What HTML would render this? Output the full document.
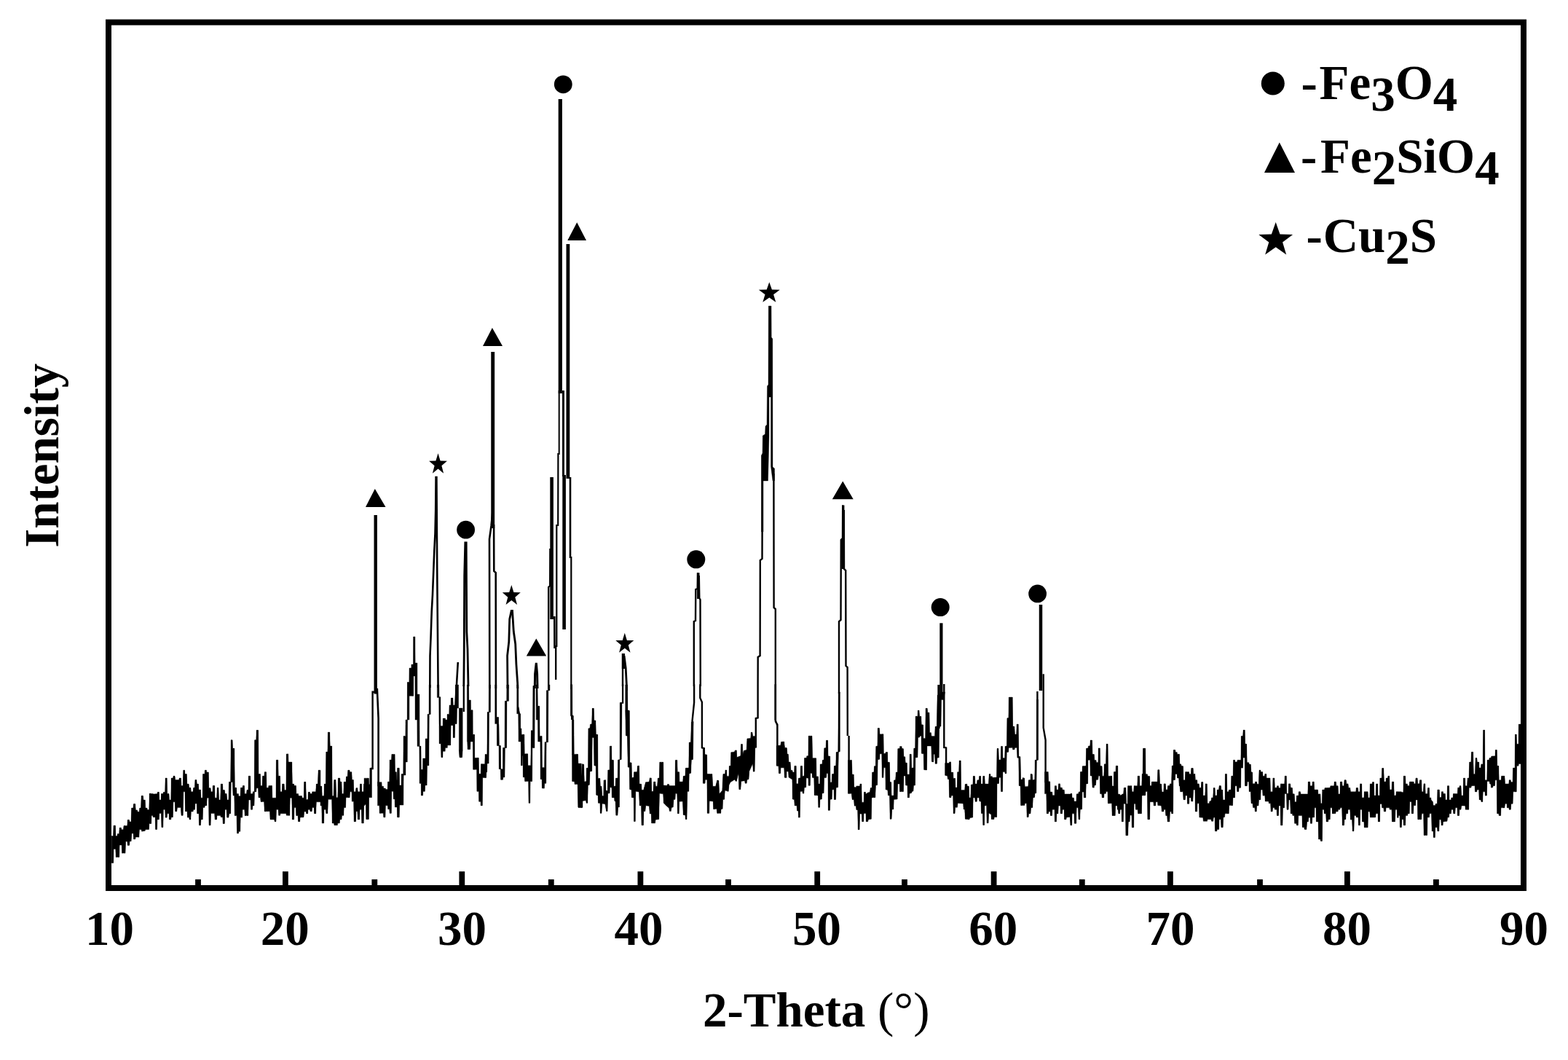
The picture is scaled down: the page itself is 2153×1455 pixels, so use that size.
<!DOCTYPE html>
<html lang="en">
<head>
<meta charset="utf-8">
<title>XRD pattern</title>
<style>
html,body{margin:0;padding:0;background:#fff;}
body{width:2153px;height:1455px;overflow:hidden;}
svg{display:block;}
svg text{font-family:"Liberation Serif","DejaVu Serif",serif;font-weight:bold;fill:#000;}
</style>
</head>
<body>
<svg width="2153" height="1455" viewBox="0 0 2153 1455">
<rect x="0" y="0" width="2153" height="1455" fill="#fff"/>
<rect x="149.0" y="30.6" width="1943.0" height="1188.4" fill="none" stroke="#000" stroke-width="8"/>
<rect x="268.1" y="1207.1" width="7.8" height="8.9" fill="#000"/>
<rect x="388.0" y="1196.2" width="7.8" height="19.8" fill="#000"/>
<rect x="510.4" y="1207.1" width="7.8" height="8.9" fill="#000"/>
<rect x="630.4" y="1196.2" width="7.8" height="19.8" fill="#000"/>
<rect x="752.9" y="1207.1" width="7.8" height="8.9" fill="#000"/>
<rect x="875.5" y="1196.2" width="7.8" height="19.8" fill="#000"/>
<rect x="996.1" y="1207.1" width="7.8" height="8.9" fill="#000"/>
<rect x="1118.3" y="1196.2" width="7.8" height="19.8" fill="#000"/>
<rect x="1238.1" y="1207.1" width="7.8" height="8.9" fill="#000"/>
<rect x="1360.7" y="1196.2" width="7.8" height="19.8" fill="#000"/>
<rect x="1481.9" y="1207.1" width="7.8" height="8.9" fill="#000"/>
<rect x="1603.0" y="1196.2" width="7.8" height="19.8" fill="#000"/>
<rect x="1726.1" y="1207.1" width="7.8" height="8.9" fill="#000"/>
<rect x="1846.0" y="1196.2" width="7.8" height="19.8" fill="#000"/>
<rect x="1968.0" y="1207.1" width="7.8" height="8.9" fill="#000"/>
<text x="150.5" y="1296.5" text-anchor="middle" font-size="67">10</text>
<text x="391.2" y="1296.5" text-anchor="middle" font-size="67">20</text>
<text x="634.4" y="1296.5" text-anchor="middle" font-size="67">30</text>
<text x="877.1" y="1296.5" text-anchor="middle" font-size="67">40</text>
<text x="1121.5" y="1296.5" text-anchor="middle" font-size="67">50</text>
<text x="1363.7" y="1296.5" text-anchor="middle" font-size="67">60</text>
<text x="1606.9" y="1296.5" text-anchor="middle" font-size="67">70</text>
<text x="1849.4" y="1296.5" text-anchor="middle" font-size="67">80</text>
<text x="2092.5" y="1296.5" text-anchor="middle" font-size="67">90</text>
<text x="965" y="1408.7" font-size="67">2-Theta <tspan font-weight="normal">(°)</tspan></text>
<text transform="translate(80.4,751.8) rotate(-90)" font-size="67">Intensity</text>
<circle cx="1747.8" cy="114.5" r="16" fill="#000"/>
<text y="135.8" font-size="67"><tspan x="1786.5">-</tspan><tspan x="1811.5">Fe</tspan><tspan dy="16.3">3</tspan><tspan dy="-16.3">O</tspan><tspan dy="16.3">4</tspan></text>
<polygon points="1756.8,195.5 1778,237 1736,237" fill="#000"/>
<text y="237" font-size="67"><tspan x="1786">-</tspan><tspan x="1813">Fe</tspan><tspan dy="16.3">2</tspan><tspan dy="-16.3">SiO</tspan><tspan dy="16.3">4</tspan></text>
<polygon points="1751.7,304.9 1757.5,321.5 1775.1,321.9 1761.1,332.5 1766.2,349.4 1751.7,339.3 1737.2,349.4 1742.3,332.5 1728.3,321.9 1745.9,321.5" fill="#000"/>
<text y="346" font-size="67"><tspan x="1793.5">-</tspan><tspan x="1816.7">Cu</tspan><tspan dy="16.3">2</tspan><tspan dy="-16.3">S</tspan></text>
<g id="trace">
<path d="M153.2,1147.5 155.6,1147.5 156.0,1133.2 158.4,1133.2 158.8,1147.5 160.9,1147.5 161.3,1144.4 163.7,1144.4 164.1,1136.3 166.5,1136.3 166.9,1138.8 169.5,1138.8 170.0,1133.5 174.8,1133.5 175.3,1125.4 177.6,1125.4 178.0,1127.9 180.1,1127.9 180.7,1109.1 182.9,1109.1 183.5,1103.6 185.7,1103.6 186.3,1111.9 188.5,1111.9 189.0,1114.3 191.3,1114.3 191.8,1109.1 193.6,1109.1 194.1,1092.4 196.4,1092.4 196.9,1098.0 199.2,1098.0 199.6,1109.1 202.0,1109.1 202.4,1111.5 204.8,1111.5 205.2,1089.2 210.4,1089.6 210.8,1090.0 215.9,1089.6 216.4,1087.3 218.3,1087.3 218.7,1098.0 221.1,1098.0 221.5,1089.6 223.9,1089.6 224.3,1087.3 226.7,1087.3 227.1,1068.0 229.2,1068.0 229.6,1089.6 232.0,1089.6 232.4,1098.0 234.8,1098.0 235.2,1068.0 237.5,1068.0 238.0,1065.2 240.0,1065.2 240.6,1070.5 245.6,1070.5 246.2,1068.0 248.4,1068.0 249.0,1078.5 251.2,1078.5 251.8,1057.2 253.6,1057.2 254.0,1062.5 256.3,1062.5 256.8,1076.1 259.1,1076.1 259.6,1081.3 261.9,1081.3 262.3,1086.8 265.1,1086.8 265.7,1081.3 267.5,1081.3 267.9,1070.5 269.9,1070.5 270.3,1076.1 272.4,1076.1 272.8,1084.1 275.4,1084.1 275.9,1095.2 278.2,1095.2 278.6,1062.5 281.0,1062.5 281.4,1057.2 283.5,1057.2 283.9,1059.9 286.3,1059.9 286.7,1081.7 289.1,1081.7 289.5,1086.8 291.9,1086.8 292.3,1078.5 294.7,1078.5 295.1,1095.2 297.7,1095.2 298.2,1081.3 300.0,1081.3 300.5,1098.0 302.7,1098.0 303.3,1076.1 305.5,1076.1 306.1,1084.5 308.3,1084.5 308.9,1089.6 311.1,1089.6 311.7,1098.0 313.9,1098.0 314.5,1073.3 316.7,1073.3 317.2,1015.8 319.1,1015.8 319.5,1027.3 321.8,1027.3 322.3,1081.3 324.6,1081.3 325.0,1089.6 327.4,1089.6 327.8,1092.8 330.2,1092.8 330.6,1081.3 333.0,1081.3 333.4,1078.5 335.4,1078.5 335.8,1089.6 338.6,1089.6 339.0,1084.5 340.9,1084.5 341.3,1065.2 343.7,1065.2 344.1,1089.6 346.9,1089.6 347.3,1086.8 349.3,1086.8 349.7,1015.8 351.8,1015.8 352.2,1002.3 354.6,1002.3 355.0,1062.5 357.4,1062.5 357.8,1078.5 360.2,1078.5 360.6,1065.2 362.9,1065.2 363.4,1059.7 365.5,1059.7 366.0,1081.3 368.5,1081.3 368.9,1078.5 373.4,1078.5 373.8,1095.2 379.0,1095.2 379.4,1043.2 381.8,1043.2 382.2,1065.2 384.5,1065.2 385.0,1086.8 387.3,1086.8 387.7,1076.1 390.1,1076.1 390.5,1084.5 392.9,1084.5 393.3,1034.9 395.7,1034.9 396.1,1046.0 400.8,1046.0 401.3,1076.1 403.6,1076.1 404.1,1078.5 406.4,1078.5 406.8,1089.6 409.6,1089.6 410.0,1092.4 414.5,1092.4 414.9,1095.2 417.3,1095.2 417.7,1073.3 419.8,1073.3 420.4,1097.6 422.9,1097.6 423.3,1087.3 425.6,1087.3 426.1,1089.6 428.2,1089.6 428.7,1086.8 433.7,1086.8 434.3,1076.1 436.5,1076.1 437.1,1057.2 440.0,1057.2 440.0,1100.8 434.3,1100.8 433.7,1116.8 431.6,1116.8 431.2,1108.4 428.7,1108.4 428.2,1113.7 425.9,1113.7 425.4,1111.2 423.1,1111.2 422.6,1116.8 420.5,1116.8 420.1,1114.0 417.6,1114.0 417.0,1121.7 412.1,1122.1 411.7,1127.7 409.6,1127.7 409.2,1119.6 406.8,1119.6 406.4,1108.4 404.1,1108.4 403.6,1124.9 401.3,1124.9 400.8,1095.2 398.2,1095.2 397.8,1119.3 393.3,1119.3 392.9,1116.8 385.0,1116.8 384.5,1119.3 382.7,1119.3 382.2,1111.2 379.4,1111.2 379.0,1127.7 377.2,1127.7 376.6,1124.9 371.0,1124.9 370.6,1113.7 363.2,1113.7 362.7,1100.4 358.1,1100.4 357.6,1094.8 355.0,1094.8 354.6,1081.7 352.2,1081.7 351.8,1086.8 349.4,1086.8 349.0,1105.9 346.9,1105.9 346.5,1111.2 344.6,1111.2 344.1,1098.0 341.3,1098.0 340.9,1119.6 336.2,1119.6 335.8,1111.2 333.0,1111.2 332.6,1122.1 330.2,1122.1 329.8,1141.2 327.8,1141.2 327.4,1144.0 325.6,1144.0 325.0,1119.6 322.3,1119.6 321.8,1092.0 320.0,1092.0 319.5,1073.6 317.2,1073.6 316.7,1116.8 314.5,1116.8 313.9,1122.1 311.7,1122.1 311.1,1111.2 308.9,1111.2 308.3,1130.5 306.2,1130.5 305.8,1121.7 303.3,1121.7 302.7,1119.6 297.9,1119.6 297.5,1124.9 295.1,1124.9 294.7,1116.5 289.5,1116.5 289.1,1132.8 287.0,1132.8 286.6,1095.2 284.2,1095.2 283.8,1105.7 281.4,1105.9 281.0,1108.4 278.6,1108.4 278.2,1124.9 275.9,1124.9 275.4,1132.8 273.5,1132.8 273.1,1116.8 270.7,1116.8 270.3,1103.1 267.9,1103.1 267.5,1111.2 265.7,1111.2 265.1,1114.0 262.3,1114.0 261.9,1124.9 260.1,1124.9 259.6,1122.1 257.5,1122.1 257.0,1113.7 254.5,1113.7 254.0,1086.8 251.8,1086.8 251.2,1119.3 249.0,1119.3 248.4,1108.4 243.4,1108.4 242.8,1113.7 240.7,1113.7 240.3,1100.8 237.8,1100.8 237.3,1121.7 235.2,1121.7 234.8,1124.9 232.4,1124.9 232.0,1116.8 229.6,1116.8 229.2,1122.1 227.1,1122.1 226.7,1111.2 224.3,1111.2 223.9,1135.6 221.9,1135.6 221.5,1116.5 218.7,1116.5 218.3,1124.9 215.9,1124.9 215.5,1138.4 213.6,1138.4 213.2,1121.7 210.1,1121.7 209.7,1119.6 208.0,1119.6 207.6,1130.5 204.8,1130.5 204.4,1138.4 199.6,1138.8 199.2,1140.5 194.6,1141.2 194.1,1138.8 191.3,1138.8 190.9,1149.1 186.3,1149.1 185.7,1151.9 183.6,1151.9 183.2,1144.0 180.7,1144.0 180.1,1154.7 178.0,1154.7 177.6,1160.3 175.3,1160.3 174.8,1155.1 172.5,1155.1 172.0,1171.1 167.6,1171.1 167.2,1160.0 164.1,1160.0 163.7,1176.4 159.2,1176.4 158.8,1165.6 156.0,1165.6 155.6,1184.4 153.2,1184.4Z M440.0,1079.2 441.8,1079.2 442.2,1092.4 444.9,1092.4 445.3,1076.1 447.4,1076.1 447.8,1032.1 449.9,1032.1 450.4,1005.0 452.7,1005.0 453.2,1024.1 455.7,1024.1 456.2,1092.4 458.2,1092.4 458.8,1070.5 461.0,1070.5 461.6,1094.8 463.8,1094.8 464.4,1068.0 466.6,1068.0 467.2,1073.3 469.0,1073.3 469.4,1089.6 471.8,1089.6 472.2,1073.3 475.0,1073.3 475.5,1065.9 477.3,1065.9 477.8,1057.2 480.1,1057.2 480.5,1059.7 482.9,1059.7 483.3,1070.5 485.3,1070.5 485.7,1086.8 488.5,1086.8 488.9,1081.7 490.8,1081.7 491.3,1086.8 494.1,1086.8 494.5,1076.1 496.4,1076.1 496.8,1086.8 499.2,1086.8 499.6,1076.1 500.6,1076.1 500.6,1105.9 499.6,1105.9 499.2,1130.0 496.8,1130.0 496.4,1111.2 494.1,1111.2 493.6,1124.9 491.3,1124.9 490.8,1113.7 488.9,1113.7 488.5,1127.7 486.1,1127.7 485.7,1100.1 483.3,1100.1 482.9,1086.8 480.5,1086.8 480.1,1094.8 475.0,1094.8 474.5,1108.4 472.2,1108.4 471.8,1119.3 469.4,1119.3 469.0,1124.9 466.6,1124.9 466.2,1130.0 463.8,1130.0 463.4,1132.8 458.9,1132.8 458.5,1130.0 456.2,1130.0 455.7,1097.3 450.4,1097.3 449.9,1116.5 447.8,1116.5 447.4,1111.2 445.0,1111.2 444.6,1130.0 442.2,1130.0 441.8,1105.9 440.0,1105.9Z M500.0,1068.2 506.3,1068.2 506.5,1076.6 507.8,1076.6 507.9,1054.3 510.5,1054.3 510.5,1094.7 506.5,1094.7 506.3,1124.6 502.8,1124.6 502.5,1104.4 500.0,1104.4Z M518.5,1073.1 520.9,1073.1 521.2,1073.8 524.0,1073.8 524.2,1079.3 526.5,1079.3 526.8,1082.1 529.3,1082.1 529.5,1083.5 532.3,1083.5 532.6,1073.1 534.8,1073.1 535.1,1043.1 537.6,1043.1 537.9,1035.4 542.1,1035.4 542.4,1059.8 544.3,1059.8 544.6,1070.3 545.4,1070.3 545.7,1054.3 548.2,1054.3 548.5,1077.9 551.0,1077.9 551.3,1062.6 553.8,1062.6 554.1,1010.4 556.9,1010.4 557.0,988.1 559.2,988.1 559.4,936.5 561.9,936.5 562.0,917.0 564.8,917.0 564.9,912.1 567.6,912.1 567.7,874.0 569.9,874.0 570.1,910.0 572.9,910.0 573.0,953.0 575.9,953.0 576.1,1024.3 578.0,1024.3 578.2,1056.3 580.7,1056.3 580.8,1041.0 584.2,1041.0 584.3,1013.9 586.9,1013.9 587.1,980.4 589.0,980.4 589.2,940.0 591.3,940.0 591.3,980.4 589.2,980.4 588.9,1050.8 586.4,1050.8 586.1,1077.9 583.6,1077.9 583.3,1086.3 580.8,1086.3 580.5,1091.9 578.4,1091.9 578.3,1075.2 576.1,1075.2 575.9,1024.3 573.0,1024.3 572.9,988.1 570.1,988.1 569.9,928.0 567.7,928.0 567.6,955.3 562.0,955.3 561.9,988.1 559.4,988.1 559.2,1045.9 557.0,1045.9 556.9,1064.0 554.1,1064.0 553.8,1105.1 548.5,1105.1 548.2,1121.8 545.6,1121.8 545.3,1107.9 542.4,1107.9 542.1,1096.8 540.4,1096.8 540.1,1086.3 537.6,1086.3 537.3,1116.3 535.1,1116.3 534.8,1110.7 532.6,1110.7 532.3,1105.8 529.3,1105.8 529.0,1121.8 526.8,1121.8 526.5,1116.3 521.2,1116.3 520.9,1105.8 518.5,1105.8Z M600.3,940.0 602.8,940.0 603.0,956.7 604.8,956.7 604.9,996.4 608.1,996.4 608.3,986.0 611.5,986.0 611.6,988.1 614.0,988.1 614.1,980.4 616.8,980.4 617.0,967.9 619.1,967.9 619.4,958.1 621.9,958.1 622.2,967.9 625.1,967.9 625.4,940.0 629.6,940.0 629.6,972.0 627.4,972.0 627.1,993.6 624.6,993.6 624.3,1012.5 622.3,1012.5 622.1,995.7 619.1,995.7 618.7,1022.9 614.5,1022.9 614.3,1026.4 611.5,1026.4 611.2,1031.3 608.1,1031.3 607.8,1039.6 605.9,1039.6 605.5,1020.8 603.1,1020.8 602.8,957.4 600.3,957.4Z M630.3,972.0 635.2,972.0 635.2,1029.2 634.5,1039.6 631.0,1039.6 630.3,1029.2Z M641.4,940.0 643.5,940.0 643.7,960.9 646.3,960.9 646.4,974.8 649.1,974.8 649.2,1008.3 651.6,1008.3 651.7,1040.3 657.2,1040.3 657.5,1062.3 660.2,1062.3 660.5,1048.7 665.8,1048.7 666.1,1035.4 668.9,1035.4 669.2,977.6 671.2,977.6 671.4,940.0 673.5,940.0 673.5,977.6 671.4,977.6 671.1,1048.0 668.9,1048.0 668.6,1059.8 667.8,1059.8 667.5,1067.5 662.6,1067.5 662.3,1105.8 660.2,1105.8 660.0,1100.2 657.7,1100.2 657.5,1086.3 654.9,1086.3 654.7,1056.3 649.7,1056.3 649.4,1018.0 646.0,1018.0 645.6,1028.5 642.1,1028.5 641.8,1018.0 641.4,1018.0Z M679.7,940.0 681.8,940.0 682.0,984.6 684.5,984.6 684.6,994.3 685.0,994.3 685.3,1023.6 687.4,1023.6 687.6,1055.7 690.5,1055.7 690.6,1026.4 693.0,1026.4 693.1,1012.5 693.4,962.3 695.8,962.3 695.9,940.0 698.6,940.0 698.6,962.3 695.9,962.3 695.6,1026.4 693.3,1026.4 693.0,1066.8 690.9,1066.8 690.6,1070.3 687.7,1070.3 687.4,1055.7 685.3,1055.7 685.0,1023.6 682.5,1023.6 682.4,993.6 679.7,993.6Z M709.7,940.0 711.8,940.0 711.9,969.3 713.7,979.7 714.6,979.7 714.7,999.9 716.0,999.9 716.1,1008.3 719.9,1008.3 720.2,1034.8 724.6,1034.8 724.9,1050.8 728.8,1050.8 729.1,1026.4 729.4,1002.7 731.6,1002.7 731.9,941.4 734.1,941.4 734.4,940.0 735.5,940.0 735.5,941.4 734.2,941.4 734.0,1026.4 730.9,1026.4 730.6,1072.4 728.1,1072.4 727.8,1102.3 726.0,1102.3 725.7,1072.4 720.7,1072.4 720.4,1066.8 718.3,1066.8 718.1,1037.5 717.4,1037.5 717.1,1050.8 715.6,1050.8 715.3,1018.0 712.1,1018.0 711.8,979.7 709.7,979.7Z M736.2,940.0 738.0,940.0 738.3,969.3 740.8,969.3 741.1,1010.4 744.1,1010.4 744.4,1053.6 747.7,1053.6 748.0,1018.7 750.3,1018.7 750.5,947.7 752.5,947.7 752.8,940.0 755.0,940.0 755.0,947.7 752.8,947.7 752.5,1018.7 750.1,1018.7 749.8,1075.2 747.6,1075.2 747.3,1082.1 744.4,1082.1 744.1,1069.6 742.2,1069.6 741.9,1018.0 738.8,1018.0 738.6,988.1 736.2,988.1Z M783.6,940.0 785.6,940.0 785.9,988.1 787.9,988.1 788.2,1035.4 793.5,1035.4 793.7,1048.0 798.2,1048.0 798.5,1065.4 800.0,1065.4 800.0,1108.6 794.0,1108.6 793.7,1076.6 789.0,1076.6 788.7,1072.4 786.2,1072.4 785.9,1036.1 785.6,988.1 783.6,981.8Z M785.6,1035.4 793.2,1035.4 793.9,1048.7 796.0,1049.4 796.7,1065.4 798.8,1064.7 799.5,1048.7 801.6,1049.4 802.3,1073.1 805.1,1072.4 805.4,1054.3 807.6,1054.3 807.9,999.9 810.0,999.2 810.4,994.3 812.7,993.6 813.2,972.3 815.3,972.3 815.7,988.8 817.9,989.0 818.3,1008.0 820.7,1008.3 821.1,1068.2 823.9,1068.5 824.3,1079.3 826.0,1079.3 826.7,1092.6 828.8,1092.6 829.0,1071.0 831.6,1070.7 832.0,1084.9 834.3,1085.6 834.8,1057.0 837.1,1056.8 837.4,1024.3 839.6,1024.0 839.9,1043.1 842.4,1043.4 842.7,1079.3 845.2,1079.1 845.5,1068.2 848.3,1067.9 848.6,1043.1 851.1,1042.4 851.3,964.4 853.9,964.0 853.9,965.1 853.2,1042.4 850.8,1043.1 850.4,1107.9 848.6,1107.9 848.0,1119.1 845.8,1119.1 845.2,1100.0 843.8,1099.5 843.4,1094.9 840.3,1094.7 839.9,1081.0 837.4,1080.7 837.1,1088.8 834.6,1089.1 834.1,1113.5 832.7,1113.5 831.6,1108.6 830.9,1103.7 826.7,1103.0 826.0,1116.3 824.3,1116.3 823.9,1102.3 821.5,1102.3 821.1,1091.9 818.7,1091.2 818.3,1051.5 815.9,1050.8 815.5,1012.5 813.2,1012.5 812.7,1058.4 810.0,1059.1 809.3,1077.3 807.3,1077.9 806.8,1102.3 805.1,1102.3 804.4,1098.8 799.5,1099.5 798.8,1108.6 793.9,1107.9 793.2,1075.9 787.9,1072.4 785.6,1072.4Z M858.7,940.0 861.5,940.0 861.9,974.8 864.3,975.5 864.7,1046.6 867.1,1047.0 867.5,1067.5 870.3,1067.1 870.6,1059.8 874.8,1059.6 875.4,1051.5 877.5,1051.2 878.0,1075.9 880.6,1076.3 881.0,1084.2 883.8,1084.2 886.6,1073.8 891.5,1073.1 892.2,1067.9 894.3,1067.9 894.7,1086.3 897.0,1086.3 897.7,1073.1 899.8,1073.1 900.3,1079.3 902.6,1079.3 903.3,1068.2 905.4,1067.9 905.8,1046.2 910.7,1046.2 911.0,1077.9 915.9,1078.2 916.6,1076.3 918.6,1076.6 919.1,1078.6 927.0,1078.6 927.4,1043.4 929.8,1043.4 930.2,1059.6 932.6,1059.8 933.0,1073.1 937.7,1073.1 938.2,1065.4 940.9,1065.1 941.4,1054.3 945.8,1054.0 946.2,1019.1 948.6,1018.7 949.3,990.9 952.1,990.2 952.1,990.9 951.4,1042.4 949.3,1043.1 948.6,1061.2 946.2,1061.9 945.8,1086.3 943.7,1086.3 943.0,1124.6 941.4,1124.6 940.9,1119.1 938.2,1118.4 937.5,1100.0 932.6,1100.2 932.2,1116.7 930.5,1116.7 929.8,1089.4 927.4,1089.1 927.0,1097.2 924.9,1097.5 924.2,1107.9 922.1,1108.6 921.4,1113.5 919.3,1113.5 918.6,1109.3 914.5,1105.8 911.3,1102.3 910.7,1089.8 905.4,1089.1 904.7,1124.6 900.1,1125.3 899.6,1129.9 894.7,1129.9 894.3,1117.0 892.2,1117.0 891.5,1106.5 886.6,1105.8 885.9,1113.5 883.8,1113.5 883.4,1132.7 881.0,1132.7 880.6,1105.8 878.2,1105.8 877.5,1087.0 872.7,1086.3 872.2,1127.4 870.6,1127.4 870.3,1094.9 867.5,1094.7 867.1,1084.2 864.7,1083.5 864.3,1053.6 862.2,1052.9 861.5,1010.4 859.4,1009.7 858.7,974.8Z M965.3,1026.4 967.4,1026.7 967.8,1035.4 970.6,1035.9 970.9,1062.3 977.9,1062.6 978.6,1079.3 982.7,1079.3 984.8,1071.0 986.9,1071.7 987.6,1089.8 991.8,1084.9 992.9,1062.6 995.7,1062.3 996.0,1057.0 997.6,1057.0 998.1,1065.4 1000.9,1065.4 1001.3,1051.5 1003.4,1051.2 1003.8,1032.7 1008.5,1032.0 1009.2,1029.9 1011.3,1029.9 1011.7,1039.6 1016.9,1037.5 1017.6,1021.5 1019.4,1021.5 1019.9,1037.5 1021.1,1030.6 1025.2,1029.2 1025.9,1013.9 1030.8,1013.2 1031.2,1005.2 1032.9,1005.2 1033.6,1010.4 1038.5,1010.4 1038.5,1025.7 1036.7,1026.4 1036.1,1059.1 1034.3,1059.1 1033.6,1048.0 1028.7,1059.1 1028.0,1069.6 1025.9,1070.3 1025.2,1075.2 1023.1,1075.2 1022.5,1071.7 1017.6,1072.4 1016.9,1083.5 1014.8,1083.5 1014.1,1060.5 1011.3,1072.4 1008.5,1070.3 1002.9,1073.8 1000.9,1077.9 1000.2,1086.3 995.3,1084.9 994.6,1097.2 992.5,1097.5 992.1,1110.3 990.1,1110.7 989.7,1116.3 984.8,1116.3 984.1,1110.3 979.7,1110.7 979.3,1100.0 974.1,1099.5 973.7,1116.3 971.2,1116.3 970.9,1070.3 968.4,1070.3 968.1,1075.2 965.3,1075.2Z M1045.5,730.0 1045.5,625.0 1047.0,622.0 1047.3,598.0 1050.5,596.0 1051.0,585.0 1053.0,583.0 1053.5,530.0 1055.0,528.0 1055.3,420.0 1059.0,420.0 1059.2,463.0 1060.8,465.0 1061.0,641.0 1063.5,643.0 1063.5,660.0 1061.0,660.0 1058.5,640.0 1058.5,545.0 1056.0,545.0 1056.0,598.0 1054.5,660.0 1048.0,660.0 1048.0,730.0Z M1066.3,1023.6 1072.6,1022.9 1075.4,1018.7 1077.5,1026.4 1080.0,1027.1 1080.0,1067.5 1077.5,1066.8 1076.8,1053.6 1071.9,1053.6 1071.5,1061.2 1069.8,1061.2 1069.1,1051.5 1066.3,1050.8Z M1066.3,1023.9 1071.8,1023.2 1072.5,1018.3 1076.7,1018.0 1077.4,1026.4 1080.2,1026.6 1080.9,1035.0 1082.3,1035.3 1083.0,1045.9 1085.1,1046.1 1085.8,1057.3 1087.9,1057.3 1088.6,1060.1 1090.7,1060.1 1090.9,1051.4 1093.2,1051.4 1093.4,1075.4 1095.9,1076.1 1096.5,1068.2 1099.0,1067.7 1099.4,1051.4 1101.5,1051.4 1101.8,1065.4 1104.3,1065.0 1104.6,1040.6 1107.4,1040.3 1107.7,1037.8 1109.9,1037.5 1110.2,1010.2 1115.0,1010.2 1115.5,1040.6 1120.6,1040.8 1121.0,1065.7 1123.4,1065.9 1123.8,1076.1 1125.8,1076.1 1126.2,1048.9 1129.0,1048.7 1129.4,1043.4 1131.3,1043.1 1131.8,1026.9 1134.1,1026.6 1134.5,1016.2 1136.6,1016.2 1137.1,1037.8 1139.7,1038.1 1140.1,1074.0 1142.2,1073.7 1142.6,1062.6 1145.0,1062.2 1145.4,1051.4 1147.8,1051.0 1148.2,1032.5 1150.8,1032.2 1151.3,950.0 1153.4,950.0 1153.4,1031.5 1151.3,1032.2 1150.6,1080.7 1148.1,1081.0 1147.5,1097.4 1145.4,1097.4 1145.0,1083.8 1142.6,1084.0 1142.2,1097.0 1139.8,1097.4 1139.4,1112.3 1137.3,1112.3 1136.9,1061.8 1135.0,1061.5 1134.5,1067.3 1131.5,1067.7 1131.1,1088.6 1128.7,1089.1 1128.3,1097.0 1125.9,1097.4 1125.5,1108.2 1123.8,1108.2 1123.4,1092.1 1118.2,1091.4 1117.8,1067.7 1115.5,1067.3 1115.0,1061.5 1112.7,1061.2 1112.3,1078.2 1110.2,1078.2 1109.9,1068.2 1107.1,1067.7 1106.7,1080.7 1104.3,1081.0 1103.9,1089.1 1102.2,1089.1 1101.8,1086.3 1098.7,1086.6 1098.3,1122.1 1096.5,1122.1 1096.2,1113.3 1094.6,1113.0 1094.1,1106.1 1091.1,1105.8 1090.7,1097.7 1088.3,1097.0 1087.9,1070.1 1083.0,1067.0 1082.6,1059.0 1079.9,1058.7 1079.5,1067.3 1077.4,1067.3 1077.0,1053.8 1071.8,1053.8 1071.4,1061.5 1069.5,1061.5 1069.1,1051.0 1066.3,1050.6Z M1164.5,1043.4 1169.4,1043.4 1170.1,1062.9 1172.2,1063.1 1172.6,1080.3 1175.4,1080.7 1175.9,1078.9 1180.5,1078.9 1180.9,1076.1 1182.9,1076.1 1183.3,1101.2 1186.1,1101.2 1186.5,1087.3 1188.5,1087.3 1188.9,1090.0 1191.7,1087.9 1194.5,1087.3 1195.2,1081.7 1197.3,1081.3 1197.7,1060.1 1200.0,1059.8 1200.5,1051.7 1202.4,1051.4 1202.8,1024.5 1204.9,1024.1 1205.3,999.5 1207.4,999.5 1208.0,1007.8 1213.0,1007.8 1213.3,1034.3 1215.8,1034.3 1216.1,1032.5 1218.6,1032.5 1218.8,1046.1 1221.4,1046.4 1221.9,1073.3 1223.7,1073.7 1224.1,1092.1 1227.2,1092.1 1227.6,1070.9 1229.7,1070.5 1230.3,1060.1 1232.5,1059.8 1232.8,1027.8 1235.3,1027.3 1235.6,1024.5 1238.1,1024.5 1238.4,1027.3 1240.4,1027.8 1240.9,1038.5 1242.8,1038.9 1243.2,1046.8 1245.3,1047.3 1245.7,1062.9 1248.8,1062.9 1249.2,1035.3 1251.2,1035.3 1251.6,1054.2 1254.4,1053.8 1254.8,1027.3 1256.7,1026.9 1257.2,983.2 1260.0,983.2 1260.4,975.1 1262.0,975.1 1262.5,983.2 1264.8,983.4 1265.2,994.6 1267.6,994.9 1268.0,1013.4 1270.7,1013.4 1271.1,972.3 1273.2,972.3 1273.6,977.9 1276.0,978.1 1276.4,1005.5 1278.5,1005.7 1279.0,1010.6 1283.6,1010.6 1284.1,997.4 1286.4,997.1 1287.1,954.2 1290.6,953.5 1291.3,950.0 1297.6,950.0 1295.5,960.5 1292.4,960.5 1292.0,997.1 1289.6,997.4 1289.2,1039.9 1286.8,1040.3 1286.4,1048.2 1284.1,1048.2 1283.6,1035.3 1282.0,1035.3 1281.6,1045.9 1279.5,1045.4 1278.8,1023.9 1272.9,1023.9 1272.5,1057.0 1268.7,1056.6 1268.3,1034.7 1265.5,1034.3 1265.1,1010.2 1263.2,1010.2 1262.7,1012.0 1260.4,1012.4 1260.0,1039.5 1256.9,1039.9 1256.5,1077.9 1254.4,1078.2 1254.0,1085.9 1252.3,1086.6 1251.6,1088.6 1248.8,1089.3 1248.4,1094.9 1246.4,1094.9 1246.0,1078.2 1243.7,1077.9 1243.2,1065.0 1240.9,1065.0 1240.4,1086.6 1235.6,1086.6 1235.3,1076.1 1232.5,1076.1 1232.1,1097.0 1227.2,1097.4 1226.9,1110.9 1224.7,1110.9 1224.1,1124.2 1222.1,1124.2 1221.6,1092.1 1219.5,1091.8 1218.8,1084.5 1216.1,1083.8 1215.8,1053.8 1213.3,1053.8 1213.0,1067.3 1211.2,1067.3 1210.8,1034.7 1208.1,1034.7 1207.7,1042.2 1205.2,1042.7 1204.6,1077.5 1202.4,1077.9 1201.8,1094.6 1196.8,1094.9 1196.3,1124.2 1192.4,1124.9 1191.7,1127.7 1189.3,1127.7 1188.9,1116.5 1186.1,1116.5 1185.7,1127.7 1183.7,1127.7 1183.3,1117.2 1180.5,1116.9 1180.1,1138.8 1178.2,1138.8 1177.7,1111.6 1175.9,1111.6 1175.4,1106.3 1173.1,1106.1 1172.6,1097.7 1170.1,1097.4 1169.4,1089.3 1164.5,1089.3Z M1297.6,1047.5 1303.1,1047.5 1303.6,1045.9 1305.5,1045.9 1305.9,1060.1 1308.7,1060.1 1309.1,1068.4 1311.5,1068.4 1311.9,1081.0 1314.3,1081.0 1314.7,1059.8 1316.7,1059.8 1317.1,1044.1 1319.2,1044.1 1319.6,1084.5 1324.7,1084.5 1325.2,1076.5 1327.8,1076.1 1328.2,1078.9 1330.3,1079.3 1330.7,1094.9 1332.8,1094.9 1333.4,1077.1 1335.9,1076.8 1336.3,1065.4 1338.4,1065.4 1339.0,1076.1 1341.5,1076.1 1341.9,1070.9 1344.3,1070.5 1344.7,1065.4 1346.6,1065.4 1347.0,1076.1 1349.5,1076.1 1349.8,1065.4 1351.9,1065.4 1352.3,1076.1 1357.5,1076.1 1358.2,1062.6 1360.0,1062.6 1360.0,1116.5 1357.5,1116.5 1357.1,1129.7 1355.1,1129.7 1354.7,1105.8 1351.9,1106.1 1351.5,1132.5 1349.8,1132.5 1349.5,1116.5 1347.5,1116.5 1347.0,1100.2 1344.7,1099.8 1344.3,1094.9 1341.7,1094.9 1341.2,1100.2 1339.1,1100.2 1338.7,1094.9 1336.2,1094.9 1335.6,1122.1 1331.7,1122.8 1331.0,1124.9 1325.4,1124.2 1324.7,1110.9 1323.1,1110.9 1322.7,1103.0 1315.0,1102.6 1314.3,1108.2 1311.5,1108.2 1311.1,1116.5 1309.1,1116.5 1308.7,1092.1 1306.4,1092.1 1305.9,1094.9 1303.6,1094.6 1303.1,1069.8 1301.3,1069.6 1300.8,1065.0 1297.6,1064.3Z M1359.5,1065.9 1362.3,1065.6 1362.7,1067.3 1368.6,1067.0 1369.0,1027.6 1370.9,1027.6 1371.4,1042.9 1374.1,1042.9 1374.6,1024.4 1376.5,1024.4 1376.9,1040.5 1379.7,1040.5 1380.1,1024.4 1382.5,1024.1 1382.9,985.8 1384.9,985.4 1385.3,957.0 1390.2,957.0 1390.6,996.9 1392.9,997.3 1393.4,1008.1 1395.7,1008.1 1396.2,994.1 1398.2,994.1 1398.8,1038.3 1401.0,1038.7 1401.6,1070.1 1403.8,1070.1 1404.1,1067.6 1406.6,1068.0 1407.2,1079.8 1411.8,1079.6 1412.5,1070.8 1415.0,1070.4 1415.2,1062.4 1417.3,1062.8 1417.8,1070.8 1420.8,1070.1 1421.2,1043.3 1423.3,1042.9 1423.6,960.0 1425.3,960.0 1425.3,1042.9 1423.3,1043.6 1422.9,1088.5 1421.1,1088.9 1420.5,1094.5 1418.3,1094.9 1417.8,1108.4 1415.5,1108.8 1415.0,1116.8 1412.7,1116.8 1412.2,1121.6 1410.1,1121.6 1409.7,1102.8 1407.3,1102.8 1406.9,1105.6 1401.7,1105.6 1401.3,1079.1 1399.2,1078.4 1398.8,1040.5 1396.9,1040.1 1396.4,1026.2 1393.4,1026.6 1392.9,1029.0 1390.6,1029.0 1390.2,1026.2 1385.0,1026.6 1384.6,1032.2 1382.2,1032.5 1381.8,1061.7 1380.1,1061.7 1379.7,1059.6 1376.9,1059.6 1376.5,1086.5 1374.6,1086.5 1374.1,1067.3 1371.8,1067.3 1371.4,1075.4 1369.0,1075.7 1368.6,1121.6 1365.4,1121.6 1364.8,1124.7 1361.3,1124.4 1360.9,1117.5 1359.5,1117.5Z M1434.5,1059.6 1439.2,1059.6 1439.6,1072.6 1441.7,1072.9 1442.1,1087.1 1444.8,1087.1 1445.2,1091.7 1448.0,1091.7 1448.4,1078.7 1450.4,1078.7 1450.8,1084.0 1453.1,1084.0 1453.6,1075.9 1455.4,1075.9 1455.9,1080.9 1458.4,1081.2 1458.9,1084.0 1461.2,1084.3 1461.6,1089.9 1469.9,1089.9 1470.3,1089.3 1471.7,1089.3 1472.1,1094.9 1474.5,1095.2 1474.9,1100.0 1477.9,1100.0 1478.4,1089.9 1480.7,1089.6 1481.2,1087.1 1483.2,1086.8 1483.5,1059.6 1486.0,1059.2 1486.3,1051.7 1491.2,1051.3 1491.6,1027.2 1494.0,1026.9 1494.4,1024.1 1496.8,1023.8 1497.2,1016.0 1499.5,1016.0 1500.0,1035.2 1502.3,1035.5 1502.7,1043.3 1505.1,1043.6 1505.5,1046.4 1507.9,1046.4 1508.3,1026.9 1510.3,1026.9 1510.7,1051.3 1513.1,1051.7 1513.5,1065.2 1515.8,1065.2 1516.3,1048.9 1518.6,1048.5 1519.1,1021.3 1521.1,1021.3 1521.6,1065.2 1526.7,1065.2 1527.1,1079.1 1529.2,1079.1 1529.5,1059.6 1532.0,1059.2 1532.3,1051.3 1534.8,1051.3 1535.1,1089.9 1537.9,1090.3 1538.6,1092.1 1540.7,1090.3 1542.7,1089.6 1543.2,1081.5 1545.9,1081.2 1546.5,1103.5 1548.3,1103.5 1548.7,1078.7 1553.9,1078.7 1554.3,1086.8 1556.7,1086.8 1557.1,1078.7 1561.8,1078.7 1562.2,1065.2 1564.6,1065.2 1565.0,1078.7 1567.8,1078.4 1568.2,1062.4 1569.2,1062.0 1569.6,1027.2 1572.7,1027.2 1573.1,1062.4 1575.5,1062.8 1575.9,1065.2 1578.6,1065.6 1579.0,1078.4 1581.1,1078.4 1581.5,1073.1 1589.4,1073.1 1589.8,1056.8 1591.9,1056.8 1592.5,1075.9 1594.7,1076.3 1595.3,1087.1 1597.8,1087.1 1598.2,1075.9 1600.3,1075.9 1600.8,1084.0 1603.1,1084.0 1603.6,1078.7 1605.9,1078.4 1606.4,1075.9 1608.6,1075.7 1609.2,1051.3 1611.0,1050.8 1611.4,1029.4 1613.8,1029.4 1614.2,1032.5 1616.2,1032.5 1616.6,1035.2 1619.4,1035.2 1619.8,1048.5 1621.7,1048.9 1622.2,1051.3 1624.5,1051.7 1625.0,1070.8 1627.3,1070.8 1627.7,1059.6 1632.6,1059.6 1633.0,1062.4 1635.4,1062.4 1635.8,1054.5 1638.2,1054.5 1638.6,1063.1 1640.0,1063.1 1640.0,1084.0 1638.5,1084.0 1637.9,1100.0 1635.8,1100.0 1635.4,1094.9 1633.0,1094.9 1632.6,1103.2 1630.5,1103.2 1630.1,1092.1 1627.7,1092.1 1627.3,1097.7 1625.0,1097.7 1624.5,1086.8 1620.8,1086.8 1620.1,1079.1 1619.1,1078.7 1618.7,1068.0 1616.6,1068.0 1616.2,1062.4 1613.8,1062.4 1613.4,1070.4 1611.0,1070.8 1610.6,1116.8 1608.6,1116.8 1608.2,1114.0 1606.4,1114.0 1605.9,1127.9 1603.1,1127.9 1602.7,1119.5 1600.8,1119.5 1600.3,1111.2 1598.2,1111.2 1597.8,1114.0 1595.3,1114.0 1594.7,1106.0 1589.8,1105.6 1589.4,1100.7 1587.1,1100.7 1586.6,1106.0 1584.3,1106.0 1583.8,1100.7 1579.0,1100.7 1578.6,1124.7 1575.9,1124.7 1575.5,1086.5 1573.1,1086.5 1572.7,1091.7 1567.8,1092.1 1567.4,1116.8 1562.7,1116.8 1562.2,1111.2 1559.5,1111.2 1559.0,1103.2 1557.1,1103.2 1556.7,1135.8 1554.3,1135.8 1553.9,1119.1 1551.5,1119.1 1551.1,1127.9 1549.3,1127.9 1548.7,1146.7 1545.9,1146.7 1545.5,1103.2 1542.7,1103.2 1542.3,1127.9 1540.4,1127.9 1540.0,1111.2 1538.1,1111.2 1537.6,1116.8 1535.8,1116.8 1535.4,1111.2 1534.4,1111.2 1534.0,1106.0 1531.6,1106.0 1531.2,1119.5 1527.1,1119.5 1526.7,1102.8 1521.4,1102.8 1520.9,1086.5 1518.8,1086.5 1518.4,1089.3 1516.0,1089.6 1515.6,1094.9 1513.2,1094.9 1512.8,1089.6 1510.7,1089.6 1510.3,1065.2 1508.3,1064.8 1507.9,1070.1 1505.1,1070.4 1504.4,1077.7 1502.7,1078.2 1502.3,1081.2 1500.0,1080.9 1499.5,1065.2 1497.2,1064.8 1496.8,1043.3 1494.0,1043.3 1493.6,1075.7 1491.2,1075.9 1490.8,1094.9 1488.4,1094.9 1488.0,1087.1 1486.0,1087.1 1485.6,1110.8 1483.2,1111.2 1482.8,1124.7 1481.0,1124.7 1480.5,1108.8 1478.2,1108.8 1477.7,1130.3 1475.4,1130.3 1474.9,1116.8 1472.1,1116.8 1471.7,1132.8 1469.9,1132.8 1469.3,1121.6 1464.4,1121.9 1464.0,1124.7 1461.6,1124.7 1461.2,1111.2 1458.9,1111.2 1458.4,1116.8 1456.3,1116.8 1455.9,1106.0 1453.3,1106.0 1452.9,1116.8 1450.8,1116.8 1450.4,1127.9 1448.4,1127.9 1448.0,1111.2 1444.9,1111.2 1444.5,1119.5 1442.4,1119.5 1442.0,1114.0 1440.0,1114.0 1439.6,1116.8 1437.3,1116.8 1436.8,1089.6 1434.5,1089.6Z M1639.5,1062.4 1640.9,1062.4 1641.3,1070.8 1643.7,1070.8 1644.1,1075.9 1646.2,1075.9 1646.8,1081.2 1649.3,1081.2 1649.7,1073.6 1651.8,1073.6 1652.0,1092.1 1654.8,1092.1 1655.3,1075.9 1657.3,1075.9 1657.9,1102.8 1660.4,1102.8 1660.8,1100.0 1662.9,1099.3 1663.5,1094.9 1665.7,1094.9 1666.3,1081.5 1668.1,1081.5 1668.5,1092.1 1670.9,1092.1 1671.3,1084.0 1673.6,1084.0 1674.1,1078.7 1676.4,1078.7 1676.9,1084.3 1678.8,1084.3 1679.2,1097.9 1682.0,1097.9 1682.4,1062.4 1684.4,1062.4 1684.8,1086.8 1686.9,1086.8 1687.3,1084.3 1690.4,1084.0 1690.8,1065.2 1693.2,1065.2 1693.6,1043.3 1695.5,1043.3 1695.9,1046.1 1698.7,1045.7 1699.1,1043.3 1703.9,1043.3 1704.3,1010.4 1706.7,1010.2 1707.1,1002.1 1709.2,1002.1 1709.6,1021.0 1711.7,1021.3 1712.2,1046.4 1714.8,1046.7 1715.2,1048.9 1717.3,1049.2 1717.8,1059.6 1719.6,1060.0 1720.0,1075.7 1723.1,1075.7 1723.5,1073.1 1725.6,1073.1 1726.2,1076.3 1728.4,1076.3 1729.0,1057.1 1730.8,1057.1 1731.2,1059.6 1733.6,1059.6 1734.0,1065.2 1736.3,1065.2 1736.8,1062.4 1738.7,1062.4 1739.1,1068.0 1744.0,1068.0 1744.4,1086.8 1747.5,1086.8 1747.9,1068.0 1749.9,1068.0 1750.3,1081.2 1753.1,1081.2 1753.5,1078.7 1755.4,1078.7 1755.9,1081.5 1758.2,1081.5 1758.6,1075.9 1763.8,1075.9 1764.2,1065.2 1766.3,1065.2 1766.7,1089.3 1769.1,1089.3 1769.5,1075.9 1771.6,1075.9 1772.2,1081.2 1774.4,1081.5 1774.9,1089.6 1777.2,1089.9 1777.7,1100.7 1780.0,1100.7 1780.5,1092.1 1783.0,1092.1 1783.4,1086.8 1785.5,1086.8 1786.1,1089.9 1795.8,1089.9 1796.3,1073.1 1798.6,1073.1 1799.1,1078.7 1801.8,1078.7 1802.3,1073.1 1804.2,1073.1 1804.6,1084.0 1809.5,1084.0 1809.9,1089.9 1813.0,1089.9 1813.4,1102.8 1815.4,1102.8 1815.8,1084.0 1818.6,1084.0 1819.0,1081.5 1826.2,1081.2 1826.9,1078.7 1831.8,1078.7 1832.2,1073.1 1834.3,1073.1 1834.9,1078.7 1837.1,1078.7 1837.6,1089.9 1839.9,1089.9 1840.4,1073.1 1842.7,1073.1 1843.2,1078.7 1845.5,1078.7 1846.0,1070.8 1848.2,1070.8 1848.8,1075.9 1851.0,1075.9 1851.6,1081.5 1853.8,1081.5 1854.4,1086.8 1861.8,1086.8 1862.2,1081.5 1864.5,1081.5 1865.0,1086.8 1867.3,1086.8 1867.7,1075.9 1869.7,1075.9 1870.1,1094.9 1872.9,1094.9 1873.3,1086.8 1878.1,1086.8 1878.5,1094.9 1880.8,1094.9 1881.3,1075.9 1884.1,1075.9 1884.5,1073.6 1886.4,1073.6 1886.8,1092.1 1889.2,1092.1 1889.6,1075.9 1891.7,1075.9 1892.1,1092.1 1894.5,1092.1 1894.9,1068.0 1897.3,1068.0 1897.7,1054.5 1899.8,1054.5 1900.4,1073.1 1902.9,1073.1 1903.3,1068.0 1905.4,1068.0 1905.9,1065.2 1907.7,1065.2 1908.2,1084.0 1910.9,1084.0 1911.5,1073.1 1913.7,1073.1 1914.3,1092.1 1916.8,1092.1 1917.2,1086.8 1920.0,1086.8 1920.0,1122.3 1918.6,1122.3 1918.2,1111.2 1916.1,1111.2 1915.4,1127.9 1911.5,1127.9 1910.9,1111.2 1908.2,1111.2 1907.7,1108.8 1903.1,1108.8 1902.6,1114.0 1900.4,1114.0 1899.8,1108.8 1897.7,1108.8 1897.3,1103.5 1894.9,1103.5 1894.5,1127.9 1892.4,1127.9 1892.0,1116.8 1889.2,1116.8 1888.6,1121.9 1881.3,1121.9 1880.8,1114.0 1878.5,1114.0 1878.1,1135.8 1873.3,1135.8 1872.9,1127.9 1870.5,1127.9 1870.1,1111.2 1867.7,1111.2 1867.3,1132.8 1865.5,1132.8 1865.0,1121.9 1862.2,1121.9 1861.8,1119.5 1859.4,1119.5 1859.0,1140.9 1857.2,1140.9 1856.6,1125.1 1854.4,1125.1 1853.8,1111.2 1851.0,1111.2 1850.6,1116.8 1848.2,1116.8 1847.8,1124.7 1846.0,1124.7 1845.5,1132.8 1843.2,1132.8 1842.7,1108.8 1840.4,1108.8 1839.9,1111.2 1837.6,1111.2 1837.1,1114.0 1834.3,1114.0 1833.9,1116.8 1829.4,1116.8 1829.0,1108.8 1826.6,1108.8 1826.2,1124.7 1824.1,1124.7 1823.7,1127.9 1821.1,1127.9 1820.7,1116.8 1818.3,1116.8 1817.9,1111.2 1815.8,1111.2 1815.4,1154.4 1813.4,1154.4 1813.0,1152.0 1810.6,1152.0 1810.2,1127.9 1807.4,1127.9 1807.0,1108.8 1805.0,1108.8 1804.6,1121.9 1801.8,1121.9 1801.4,1130.3 1799.5,1130.3 1799.1,1122.3 1796.7,1122.3 1796.3,1127.9 1794.5,1127.9 1793.9,1138.4 1791.1,1138.4 1790.7,1135.6 1788.3,1135.6 1787.9,1119.5 1782.7,1119.5 1782.3,1132.8 1780.5,1132.8 1780.0,1130.3 1777.7,1130.3 1777.2,1119.5 1774.9,1119.5 1774.4,1116.8 1772.2,1116.8 1771.6,1097.9 1769.5,1097.9 1769.1,1111.2 1767.0,1111.2 1766.6,1089.6 1763.9,1089.6 1763.5,1108.8 1761.4,1108.8 1761.0,1132.8 1758.6,1132.8 1758.2,1106.0 1755.9,1106.0 1755.4,1119.5 1753.5,1119.5 1753.1,1111.2 1750.3,1111.2 1749.9,1108.8 1747.5,1108.8 1747.1,1114.0 1745.1,1114.0 1744.7,1102.8 1742.3,1102.8 1741.9,1100.0 1737.3,1100.0 1736.8,1092.1 1734.0,1092.1 1733.6,1084.0 1731.2,1084.0 1730.8,1097.7 1728.4,1097.7 1728.0,1106.0 1725.6,1106.0 1725.2,1114.0 1723.4,1114.0 1722.8,1108.4 1720.6,1108.4 1720.0,1102.8 1718.0,1102.8 1717.5,1086.5 1715.2,1086.5 1714.8,1072.9 1712.7,1072.9 1712.2,1078.7 1709.6,1078.7 1709.2,1040.1 1706.8,1040.1 1706.4,1054.1 1704.0,1054.1 1703.6,1081.2 1701.2,1081.2 1700.8,1086.5 1698.7,1086.5 1698.3,1078.7 1695.9,1078.7 1695.5,1094.9 1692.9,1094.9 1692.5,1105.6 1687.6,1105.6 1687.2,1116.8 1682.0,1116.8 1681.6,1121.6 1679.6,1121.9 1679.2,1135.6 1676.9,1135.6 1676.4,1124.7 1674.1,1124.7 1673.6,1138.4 1671.3,1138.4 1670.9,1140.9 1668.5,1140.9 1668.1,1121.9 1666.3,1121.9 1665.7,1127.2 1663.5,1127.2 1662.9,1124.7 1658.0,1124.7 1657.6,1127.2 1652.3,1127.2 1651.8,1122.3 1646.9,1121.9 1646.5,1102.8 1644.1,1102.8 1643.7,1114.0 1641.3,1114.0 1640.9,1084.0 1639.5,1084.0Z M1920.0,1086.8 1924.3,1086.8 1924.8,1087.5 1926.9,1087.5 1927.3,1065.2 1929.6,1065.2 1930.1,1075.9 1932.4,1075.9 1932.8,1078.4 1935.2,1078.4 1935.6,1073.1 1941.1,1073.1 1941.5,1075.7 1943.6,1075.7 1944.0,1068.0 1946.1,1068.0 1946.6,1075.7 1948.9,1075.7 1949.4,1070.8 1951.7,1070.8 1952.2,1086.8 1954.4,1086.8 1955.0,1075.9 1956.8,1075.9 1957.2,1089.6 1960.0,1089.6 1960.6,1081.5 1962.4,1081.5 1962.8,1094.9 1964.8,1094.9 1965.2,1097.9 1967.5,1100.7 1968.0,1105.6 1970.7,1105.6 1971.2,1103.2 1973.5,1103.2 1973.9,1084.0 1976.3,1084.0 1976.7,1094.5 1979.1,1094.5 1979.5,1086.8 1981.5,1086.8 1981.9,1089.6 1984.3,1089.6 1984.7,1097.9 1987.0,1097.9 1987.5,1078.7 1989.6,1078.7 1990.0,1097.9 1992.3,1097.9 1992.8,1094.9 1995.1,1094.9 1995.5,1089.6 2001.4,1089.6 2001.8,1081.2 2003.8,1081.2 2004.2,1078.7 2006.0,1078.7 2006.6,1092.1 2009.1,1092.1 2009.5,1068.0 2011.6,1068.0 2012.1,1078.7 2014.6,1078.7 2015.1,1068.0 2017.1,1068.0 2017.7,1046.1 2019.9,1046.1 2020.5,1032.2 2022.7,1032.2 2023.3,1062.4 2025.5,1062.4 2026.1,1040.5 2027.9,1040.5 2028.3,1046.1 2030.7,1046.1 2031.1,1054.1 2033.4,1054.1 2033.9,1048.9 2036.2,1048.9 2036.7,1002.1 2038.6,1002.1 2039.0,1070.8 2041.8,1070.8 2042.2,1043.3 2044.6,1043.3 2045.0,1040.5 2047.4,1040.1 2047.8,1038.0 2053.0,1037.8 2053.4,1029.4 2055.3,1029.4 2055.7,1051.3 2057.8,1051.3 2058.2,1070.8 2061.3,1070.8 2061.7,1065.2 2065.9,1065.2 2066.5,1075.9 2071.8,1075.9 2072.2,1070.8 2074.3,1070.8 2074.8,1073.6 2077.1,1073.6 2077.6,1054.1 2080.1,1054.1 2080.5,1008.1 2082.2,1008.1 2082.6,1021.3 2085.0,1021.3 2085.4,994.1 2088.5,994.1 2088.5,1048.5 2085.4,1048.5 2085.0,1051.3 2082.6,1051.3 2082.2,1086.8 2077.6,1086.8 2077.1,1103.2 2074.8,1103.2 2074.3,1111.2 2072.2,1111.2 2071.8,1108.8 2069.4,1108.8 2069.0,1103.2 2066.5,1103.2 2065.9,1108.8 2061.0,1108.8 2060.6,1119.5 2058.2,1119.5 2057.8,1116.8 2055.7,1116.8 2055.3,1070.8 2053.0,1070.8 2052.5,1078.4 2050.2,1078.7 2049.7,1080.9 2047.4,1081.2 2047.0,1076.3 2045.6,1075.9 2045.0,1072.6 2041.8,1072.6 2041.4,1092.1 2039.4,1092.1 2039.0,1086.8 2036.2,1086.8 2035.8,1100.5 2033.9,1100.5 2033.4,1097.9 2031.1,1097.7 2030.7,1084.0 2028.3,1084.0 2027.9,1086.8 2025.5,1086.8 2025.1,1078.4 2020.5,1078.7 2019.9,1081.2 2017.1,1081.2 2016.7,1111.2 2012.3,1111.2 2011.8,1106.0 2006.6,1106.0 2006.0,1111.2 2003.9,1111.2 2003.5,1119.5 2001.4,1119.5 2001.0,1108.8 1998.3,1108.8 1997.9,1116.8 1995.8,1116.8 1995.4,1111.2 1992.8,1111.2 1992.3,1116.8 1990.0,1116.8 1989.6,1121.9 1987.5,1121.9 1987.0,1127.2 1981.6,1127.9 1981.2,1132.8 1979.1,1132.8 1978.7,1125.1 1976.3,1125.1 1975.9,1140.9 1973.9,1140.9 1973.5,1135.8 1970.7,1135.8 1970.3,1149.5 1968.4,1149.5 1968.0,1140.9 1966.1,1140.9 1965.6,1116.8 1962.8,1116.8 1962.4,1121.9 1960.0,1121.9 1959.6,1146.4 1955.1,1146.4 1954.7,1116.8 1952.2,1116.8 1951.7,1124.7 1946.8,1124.7 1946.4,1097.9 1944.0,1097.9 1943.6,1105.6 1941.1,1105.6 1940.5,1116.8 1938.4,1116.8 1938.0,1100.5 1935.6,1100.5 1935.2,1116.8 1933.1,1116.8 1932.7,1119.5 1930.1,1119.5 1929.6,1132.8 1927.3,1132.8 1926.9,1124.7 1924.8,1124.7 1924.3,1135.6 1922.4,1135.6 1922.0,1119.5 1920.0,1119.5Z" fill="#000" fill-rule="nonzero" stroke="#000" stroke-width="0.4" stroke-linejoin="miter"/>
<path d="M156.5,1147.5 156.9,1133.2 M157.5,1133.2 157.9,1147.5 M164.6,1144.4 165.0,1136.3 M170.4,1138.8 170.9,1133.5 M175.7,1133.5 176.2,1125.4 M181.0,1127.9 181.6,1109.1 M183.8,1109.1 184.4,1103.6 M184.8,1103.6 185.4,1111.9 M192.2,1114.3 192.7,1109.1 M194.5,1109.1 195.0,1092.4 M195.5,1092.4 196.0,1098.0 M198.3,1098.0 198.7,1109.1 M205.7,1111.5 206.1,1089.2 M217.4,1087.3 217.8,1098.0 M222.0,1098.0 222.4,1089.6 M227.6,1087.3 228.0,1068.0 M228.3,1068.0 228.7,1089.6 M231.1,1089.6 231.5,1098.0 M235.7,1098.0 236.1,1068.0 M239.1,1065.2 239.7,1070.5 M247.5,1068.0 248.1,1078.5 M252.1,1078.5 252.7,1057.2 M252.7,1057.2 253.1,1062.5 M255.4,1062.5 255.9,1076.1 M258.2,1076.1 258.7,1081.3 M261.0,1081.3 261.4,1086.8 M266.0,1086.8 266.6,1081.3 M268.4,1081.3 268.8,1070.5 M269.0,1070.5 269.4,1076.1 M271.5,1076.1 271.9,1084.1 M274.5,1084.1 275.0,1095.2 M279.1,1095.2 279.5,1062.5 M281.9,1062.5 282.3,1057.2 M285.4,1059.9 285.8,1081.7 M288.2,1081.7 288.6,1086.8 M292.8,1086.8 293.2,1078.5 M293.8,1078.5 294.2,1095.2 M298.6,1095.2 299.1,1081.3 M299.1,1081.3 299.6,1098.0 M303.6,1098.0 304.2,1076.1 M304.6,1076.1 305.2,1084.5 M307.4,1084.5 308.0,1089.6 M310.2,1089.6 310.8,1098.0 M314.8,1098.0 315.4,1073.3 M317.6,1073.3 318.1,1015.8 M318.2,1015.8 318.6,1027.3 M320.9,1027.3 321.4,1081.3 M323.7,1081.3 324.1,1089.6 M331.1,1092.8 331.5,1081.3 M334.5,1078.5 334.9,1089.6 M339.5,1089.6 339.9,1084.5 M341.8,1084.5 342.2,1065.2 M342.8,1065.2 343.2,1089.6 M350.2,1086.8 350.6,1015.8 M352.7,1015.8 353.1,1002.3 M353.7,1002.3 354.1,1062.5 M356.5,1062.5 356.9,1078.5 M361.1,1078.5 361.5,1065.2 M363.8,1065.2 364.3,1059.7 M364.6,1059.7 365.1,1081.3 M372.5,1078.5 372.9,1095.2 M379.9,1095.2 380.3,1043.2 M380.9,1043.2 381.3,1065.2 M383.6,1065.2 384.1,1086.8 M388.2,1086.8 388.6,1076.1 M389.2,1076.1 389.6,1084.5 M393.8,1084.5 394.2,1034.9 M394.8,1034.9 395.2,1046.0 M399.9,1046.0 400.4,1076.1 M405.5,1078.5 405.9,1089.6 M418.2,1095.2 418.6,1073.3 M418.9,1073.3 419.5,1097.6 M423.8,1097.6 424.2,1087.3 M434.6,1086.8 435.2,1076.1 M437.4,1076.1 438.0,1057.2 M154.7,1184.4 155.1,1165.6 M159.7,1165.6 160.1,1176.4 M162.8,1176.4 163.2,1160.0 M168.1,1160.0 168.5,1171.1 M171.1,1171.1 171.6,1155.1 M175.7,1155.1 176.2,1160.3 M176.7,1160.3 177.1,1154.7 M179.2,1154.7 179.8,1144.0 M184.1,1144.0 184.5,1151.9 M190.0,1149.1 190.4,1138.8 M203.5,1138.4 203.9,1130.5 M206.7,1130.5 207.1,1119.6 M214.1,1121.7 214.5,1138.4 M214.6,1138.4 215.0,1124.9 M217.4,1124.9 217.8,1116.5 M222.4,1116.5 222.8,1135.6 M223.0,1135.6 223.4,1111.2 M227.6,1111.2 228.0,1122.1 M228.3,1122.1 228.7,1116.8 M232.9,1116.8 233.3,1124.9 M236.4,1121.7 236.9,1100.8 M241.2,1100.8 241.6,1113.7 M241.9,1113.7 242.5,1108.4 M249.3,1108.4 249.9,1119.3 M250.3,1119.3 250.9,1086.8 M254.9,1086.8 255.4,1113.7 M257.9,1113.7 258.4,1122.1 M261.0,1124.9 261.4,1114.0 M266.6,1111.2 267.0,1103.1 M271.2,1103.1 271.6,1116.8 M274.0,1116.8 274.4,1132.8 M274.5,1132.8 275.0,1124.9 M277.3,1124.9 277.7,1108.4 M282.9,1105.7 283.3,1095.2 M287.5,1095.2 287.9,1132.8 M288.2,1132.8 288.6,1116.5 M295.6,1116.5 296.0,1124.9 M296.6,1124.9 297.0,1119.6 M306.7,1121.7 307.1,1130.5 M307.4,1130.5 308.0,1111.2 M312.0,1111.2 312.6,1122.1 M313.0,1122.1 313.6,1116.8 M315.8,1116.8 316.3,1073.6 M320.4,1073.6 320.9,1092.0 M322.7,1092.0 323.2,1119.6 M325.9,1119.6 326.5,1144.0 M328.9,1141.2 329.3,1122.1 M331.7,1122.1 332.1,1111.2 M336.7,1111.2 337.1,1119.6 M340.0,1119.6 340.4,1098.0 M345.0,1098.0 345.5,1111.2 M345.6,1111.2 346.0,1105.9 M348.1,1105.9 348.5,1086.8 M350.9,1086.8 351.3,1081.7 M355.5,1081.7 355.9,1094.8 M358.5,1094.8 359.0,1100.4 M363.6,1100.4 364.1,1113.7 M371.5,1113.7 371.9,1124.9 M378.1,1127.7 378.5,1111.2 M383.1,1111.2 383.6,1119.3 M396.9,1119.3 397.3,1095.2 M401.7,1095.2 402.2,1124.9 M402.7,1124.9 403.2,1108.4 M407.3,1108.4 407.7,1119.6 M410.1,1119.6 410.5,1127.7 M410.8,1127.7 411.2,1122.1 M416.1,1121.7 416.7,1114.0 M421.7,1116.8 422.2,1111.2 M427.3,1113.7 427.8,1108.4 M432.1,1108.4 432.5,1116.8 M432.8,1116.8 433.4,1100.8 M440.9,1079.2 441.3,1092.4 M445.8,1092.4 446.2,1076.1 M448.3,1076.1 448.7,1032.1 M450.8,1032.1 451.3,1005.0 M451.8,1005.0 452.3,1024.1 M454.8,1024.1 455.3,1092.4 M459.1,1092.4 459.7,1070.5 M460.1,1070.5 460.7,1094.8 M464.7,1094.8 465.3,1068.0 M465.7,1068.0 466.3,1073.3 M468.1,1073.3 468.5,1089.6 M472.7,1089.6 473.1,1073.3 M475.9,1073.3 476.4,1065.9 M478.2,1065.9 478.7,1057.2 M482.0,1059.7 482.4,1070.5 M484.4,1070.5 484.8,1086.8 M489.4,1086.8 489.8,1081.7 M489.9,1081.7 490.4,1086.8 M495.0,1086.8 495.4,1076.1 M495.5,1076.1 495.9,1086.8 M500.1,1086.8 500.5,1076.1 M442.7,1105.9 443.1,1130.0 M443.7,1130.0 444.1,1111.2 M448.3,1111.2 448.7,1116.5 M449.0,1116.5 449.5,1097.3 M456.6,1097.3 457.1,1130.0 M465.3,1130.0 465.7,1124.9 M468.1,1124.9 468.5,1119.3 M470.9,1119.3 471.3,1108.4 M473.6,1108.4 474.1,1094.8 M479.2,1094.8 479.6,1086.8 M483.8,1086.8 484.2,1100.1 M486.6,1100.1 487.0,1127.7 M487.6,1127.7 488.0,1113.7 M491.7,1113.7 492.2,1124.9 M492.7,1124.9 493.2,1111.2 M497.3,1111.2 497.7,1130.0 M498.3,1130.0 498.7,1105.9 M505.4,1068.2 505.6,1076.6 M508.7,1076.6 508.8,1054.3 M503.4,1104.4 503.7,1124.6 M505.4,1124.6 505.6,1094.7 M523.1,1073.8 523.3,1079.3 M533.2,1083.5 533.5,1073.1 M535.7,1073.1 536.0,1043.1 M538.5,1043.1 538.8,1035.4 M541.2,1035.4 541.5,1059.8 M543.4,1059.8 543.7,1070.3 M546.3,1070.3 546.6,1054.3 M547.3,1054.3 547.6,1077.9 M551.9,1077.9 552.2,1062.6 M554.7,1062.6 555.0,1010.4 M557.8,1010.4 557.9,988.1 M560.1,988.1 560.3,936.5 M562.8,936.5 562.9,917.0 M568.5,912.1 568.6,874.0 M569.0,874.0 569.2,910.0 M572.0,910.0 572.1,953.0 M575.0,953.0 575.2,1024.3 M577.1,1024.3 577.3,1056.3 M581.6,1056.3 581.7,1041.0 M585.1,1041.0 585.2,1013.9 M587.8,1013.9 588.0,980.4 M589.9,980.4 590.1,940.0 M521.8,1105.8 522.1,1116.3 M527.4,1116.3 527.7,1121.8 M528.1,1121.8 528.4,1105.8 M535.7,1110.7 536.0,1116.3 M536.4,1116.3 536.7,1086.3 M541.0,1086.3 541.3,1096.8 M543.0,1096.8 543.3,1107.9 M546.2,1107.9 546.5,1121.8 M547.3,1121.8 547.6,1105.1 M552.9,1105.1 553.2,1064.0 M556.0,1064.0 556.1,1045.9 M558.3,1045.9 558.5,988.1 M561.0,988.1 561.1,955.3 M566.7,955.3 566.8,928.0 M570.8,928.0 571.0,988.1 M573.8,988.1 573.9,1024.3 M576.8,1024.3 577.0,1075.2 M579.2,1075.2 579.3,1091.9 M579.6,1091.9 579.9,1086.3 M582.4,1086.3 582.7,1077.9 M585.2,1077.9 585.5,1050.8 M588.0,1050.8 588.3,980.4 M601.9,940.0 602.1,956.7 M603.9,956.7 604.0,996.4 M609.0,996.4 609.2,986.0 M614.9,988.1 615.0,980.4 M617.7,980.4 617.9,967.9 M620.0,967.9 620.3,958.1 M621.0,958.1 621.3,967.9 M626.0,967.9 626.3,940.0 M603.7,957.4 604.0,1020.8 M606.4,1020.8 606.8,1039.6 M606.9,1039.6 607.2,1031.3 M617.8,1022.9 618.2,995.7 M623.0,995.7 623.2,1012.5 M623.4,1012.5 623.7,993.6 M626.2,993.6 626.5,972.0 M631.2,1029.2 631.9,1039.6 M633.6,1039.6 634.3,1029.2 M642.6,940.0 642.8,960.9 M645.4,960.9 645.5,974.8 M648.2,974.8 648.3,1008.3 M650.7,1008.3 650.8,1040.3 M656.3,1040.3 656.6,1062.3 M661.1,1062.3 661.4,1048.7 M666.7,1048.7 667.0,1035.4 M669.8,1035.4 670.1,977.6 M672.1,977.6 672.3,940.0 M642.7,1018.0 643.0,1028.5 M644.7,1028.5 645.1,1018.0 M650.3,1018.0 650.6,1056.3 M655.6,1056.3 655.8,1086.3 M658.4,1086.3 658.6,1100.2 M660.9,1100.2 661.1,1105.8 M661.4,1105.8 661.7,1067.5 M666.6,1067.5 666.9,1059.8 M667.7,1059.8 668.0,1048.0 M670.2,1048.0 670.5,977.6 M680.9,940.0 681.1,984.6 M683.6,984.6 683.7,994.3 M684.1,994.3 684.4,1023.6 M686.5,1023.6 686.7,1055.7 M691.4,1055.7 691.5,1026.4 M693.9,1026.4 694.0,1012.5 M694.0,1012.5 694.3,962.3 M696.7,962.3 696.8,940.0 M683.3,993.6 683.4,1023.6 M685.9,1023.6 686.2,1055.7 M688.3,1055.7 688.6,1070.3 M692.1,1066.8 692.4,1026.4 M694.7,1026.4 695.0,962.3 M710.9,940.0 711.0,969.3 M711.0,969.3 712.8,979.7 M713.7,979.7 713.8,999.9 M715.1,999.9 715.2,1008.3 M719.0,1008.3 719.3,1034.8 M723.7,1034.8 724.0,1050.8 M729.7,1050.8 730.0,1026.4 M730.0,1026.4 730.3,1002.7 M732.5,1002.7 732.8,941.4 M712.7,979.7 713.0,1018.0 M716.2,1018.0 716.5,1050.8 M716.2,1050.8 716.5,1037.5 M719.0,1037.5 719.2,1066.8 M721.3,1066.8 721.6,1072.4 M726.6,1072.4 726.9,1102.3 M726.9,1102.3 727.2,1072.4 M729.7,1072.4 730.0,1026.4 M733.1,1026.4 733.3,941.4 M737.1,940.0 737.4,969.3 M739.9,969.3 740.2,1010.4 M743.2,1010.4 743.5,1053.6 M748.6,1053.6 748.9,1018.7 M751.2,1018.7 751.4,947.7 M753.4,947.7 753.7,940.0 M739.5,988.1 739.7,1018.0 M742.8,1018.0 743.1,1069.6 M745.0,1069.6 745.3,1082.1 M746.4,1082.1 746.7,1075.2 M748.9,1075.2 749.2,1018.7 M751.6,1018.7 751.9,947.7 M784.7,940.0 785.0,988.1 M787.0,988.1 787.3,1035.4 M792.6,1035.4 792.8,1048.0 M797.3,1048.0 797.6,1065.4 M786.5,988.1 786.8,1036.1 M786.8,1036.1 787.1,1072.4 M794.6,1076.6 794.9,1108.6 M792.3,1035.4 793.0,1048.7 M795.1,1049.4 795.8,1065.4 M799.7,1064.7 800.4,1048.7 M800.7,1049.4 801.4,1073.1 M806.0,1072.4 806.3,1054.3 M808.5,1054.3 808.8,999.9 M813.6,993.6 814.1,972.3 M814.4,972.3 814.8,988.8 M817.0,989.0 817.4,1008.0 M819.8,1008.3 820.2,1068.2 M823.0,1068.5 823.4,1079.3 M825.1,1079.3 825.8,1092.6 M829.7,1092.6 829.9,1071.0 M830.7,1070.7 831.1,1084.9 M835.2,1085.6 835.7,1057.0 M838.0,1056.8 838.3,1024.3 M838.7,1024.0 839.0,1043.1 M841.5,1043.4 841.8,1079.3 M846.1,1079.1 846.4,1068.2 M849.2,1067.9 849.5,1043.1 M852.0,1042.4 852.2,964.4 M794.1,1075.9 794.8,1107.9 M797.9,1108.6 798.6,1099.5 M805.9,1102.3 806.4,1077.9 M808.4,1077.3 809.1,1059.1 M811.8,1058.4 812.3,1012.5 M816.4,1012.5 816.8,1050.8 M819.2,1051.5 819.6,1091.2 M822.0,1091.9 822.4,1102.3 M824.8,1102.3 825.2,1116.3 M825.1,1116.3 825.8,1103.0 M833.2,1113.5 833.7,1089.1 M836.2,1088.8 836.5,1080.7 M840.8,1081.0 841.2,1094.7 M846.1,1100.0 846.7,1119.1 M847.1,1119.1 847.7,1107.9 M849.5,1107.9 849.9,1043.1 M852.3,1042.4 853.0,965.1 M860.6,940.0 861.0,974.8 M863.4,975.5 863.8,1046.6 M866.2,1047.0 866.6,1067.5 M871.2,1067.1 871.5,1059.8 M875.7,1059.6 876.3,1051.5 M876.6,1051.2 877.1,1075.9 M879.7,1076.3 880.1,1084.2 M884.7,1084.2 887.5,1073.8 M892.4,1073.1 893.1,1067.9 M893.4,1067.9 893.8,1086.3 M897.9,1086.3 898.6,1073.1 M898.9,1073.1 899.4,1079.3 M903.5,1079.3 904.2,1068.2 M906.3,1067.9 906.7,1046.2 M909.8,1046.2 910.1,1077.9 M927.9,1078.6 928.3,1043.4 M928.9,1043.4 929.3,1059.6 M931.7,1059.8 932.1,1073.1 M938.6,1073.1 939.1,1065.4 M941.8,1065.1 942.3,1054.3 M946.7,1054.0 947.1,1019.1 M949.5,1018.7 950.2,990.9 M859.6,974.8 860.3,1009.7 M862.4,1010.4 863.1,1052.9 M865.2,1053.6 865.6,1083.5 M868.0,1084.2 868.4,1094.7 M871.2,1094.9 871.5,1127.4 M871.3,1127.4 871.8,1086.3 M878.4,1087.0 879.1,1105.8 M881.5,1105.8 881.9,1132.7 M882.5,1132.7 882.9,1113.5 M885.0,1113.5 885.7,1105.8 M892.4,1106.5 893.1,1117.0 M895.2,1117.0 895.6,1129.9 M903.8,1124.6 904.5,1089.1 M911.6,1089.8 912.2,1102.3 M923.3,1107.9 924.0,1097.5 M926.1,1097.2 926.5,1089.1 M930.7,1089.4 931.4,1116.7 M931.3,1116.7 931.7,1100.2 M938.4,1100.0 939.1,1118.4 M941.8,1119.1 942.3,1124.6 M942.1,1124.6 942.8,1086.3 M944.9,1086.3 945.3,1061.9 M947.7,1061.2 948.4,1043.1 M950.5,1042.4 951.2,990.9 M966.5,1026.7 966.9,1035.4 M969.7,1035.9 970.0,1062.3 M977.0,1062.6 977.7,1079.3 M983.6,1079.3 985.7,1071.0 M986.0,1071.7 986.7,1089.8 M992.7,1084.9 993.8,1062.6 M996.6,1062.3 996.9,1057.0 M996.7,1057.0 997.2,1065.4 M1001.8,1065.4 1002.2,1051.5 M1004.3,1051.2 1004.7,1032.7 M1010.4,1029.9 1010.8,1039.6 M1017.8,1037.5 1018.5,1021.5 M1018.5,1021.5 1019.0,1037.5 M1020.8,1037.5 1022.0,1030.6 M1026.1,1029.2 1026.8,1013.9 M1031.7,1013.2 1032.1,1005.2 M1032.0,1005.2 1032.7,1010.4 M971.8,1070.3 972.1,1116.3 M972.8,1116.3 973.2,1099.5 M980.2,1100.0 980.6,1110.7 M985.0,1110.3 985.7,1116.3 M988.8,1116.3 989.2,1110.7 M991.2,1110.3 991.6,1097.5 M993.7,1097.2 994.4,1084.9 M999.3,1086.3 1000.0,1077.9 M1010.4,1072.4 1013.2,1060.5 M1015.0,1060.5 1015.7,1083.5 M1016.0,1083.5 1016.7,1072.4 M1027.1,1069.6 1027.8,1059.1 M1034.5,1048.0 1035.2,1059.1 M1035.2,1059.1 1035.8,1026.4 M1074.5,1018.7 1076.6,1026.4 M1070.0,1051.5 1070.7,1061.2 M1070.6,1061.2 1071.0,1053.6 M1077.7,1053.6 1078.4,1066.8 M1075.8,1018.0 1076.5,1026.4 M1079.3,1026.6 1080.0,1035.0 M1081.4,1035.3 1082.1,1045.9 M1084.2,1046.1 1084.9,1057.3 M1091.6,1060.1 1091.8,1051.4 M1092.3,1051.4 1092.5,1075.4 M1096.8,1076.1 1097.4,1068.2 M1099.9,1067.7 1100.3,1051.4 M1100.6,1051.4 1100.9,1065.4 M1105.2,1065.0 1105.5,1040.6 M1110.8,1037.5 1111.1,1010.2 M1114.1,1010.2 1114.6,1040.6 M1119.7,1040.8 1120.1,1065.7 M1122.5,1065.9 1122.9,1076.1 M1126.7,1076.1 1127.1,1048.9 M1129.9,1048.7 1130.3,1043.4 M1132.2,1043.1 1132.7,1026.9 M1135.0,1026.6 1135.4,1016.2 M1135.7,1016.2 1136.2,1037.8 M1138.8,1038.1 1139.2,1074.0 M1143.1,1073.7 1143.5,1062.6 M1145.9,1062.2 1146.3,1051.4 M1148.7,1051.0 1149.1,1032.5 M1151.7,1032.2 1152.2,950.0 M1070.0,1051.0 1070.4,1061.5 M1070.5,1061.5 1070.9,1053.8 M1077.9,1053.8 1078.3,1067.3 M1078.6,1067.3 1079.0,1058.7 M1083.5,1059.0 1083.9,1067.0 M1088.8,1070.1 1089.2,1097.0 M1091.6,1097.7 1092.0,1105.8 M1095.0,1106.1 1095.5,1113.0 M1097.1,1113.3 1097.4,1122.1 M1097.4,1122.1 1097.8,1086.6 M1103.0,1089.1 1103.4,1081.0 M1105.8,1080.7 1106.2,1067.7 M1110.8,1068.2 1111.1,1078.2 M1111.4,1078.2 1111.8,1061.2 M1115.9,1061.5 1116.4,1067.3 M1118.7,1067.7 1119.1,1091.4 M1124.3,1092.1 1124.7,1108.2 M1124.6,1108.2 1125.0,1097.4 M1127.4,1097.0 1127.8,1089.1 M1130.2,1088.6 1130.6,1067.7 M1133.6,1067.3 1134.1,1061.5 M1137.8,1061.8 1138.2,1112.3 M1138.5,1112.3 1138.9,1097.4 M1141.3,1097.0 1141.7,1084.0 M1145.9,1083.8 1146.3,1097.4 M1146.6,1097.4 1147.2,1081.0 M1149.7,1080.7 1150.4,1032.2 M1168.5,1043.4 1169.2,1062.9 M1171.3,1063.1 1171.7,1080.3 M1182.0,1076.1 1182.4,1101.2 M1187.0,1101.2 1187.4,1087.3 M1195.4,1087.3 1196.1,1081.7 M1198.2,1081.3 1198.6,1060.1 M1200.9,1059.8 1201.4,1051.7 M1203.3,1051.4 1203.7,1024.5 M1205.8,1024.1 1206.2,999.5 M1206.5,999.5 1207.1,1007.8 M1212.1,1007.8 1212.4,1034.3 M1217.7,1032.5 1217.9,1046.1 M1220.5,1046.4 1221.0,1073.3 M1222.8,1073.7 1223.2,1092.1 M1228.1,1092.1 1228.5,1070.9 M1230.6,1070.5 1231.2,1060.1 M1233.4,1059.8 1233.7,1027.8 M1239.5,1027.8 1240.0,1038.5 M1241.9,1038.9 1242.3,1046.8 M1244.4,1047.3 1244.8,1062.9 M1249.7,1062.9 1250.1,1035.3 M1250.3,1035.3 1250.7,1054.2 M1255.3,1053.8 1255.7,1027.3 M1257.6,1026.9 1258.1,983.2 M1260.9,983.2 1261.3,975.1 M1261.1,975.1 1261.6,983.2 M1263.9,983.4 1264.3,994.6 M1266.7,994.9 1267.1,1013.4 M1271.6,1013.4 1272.0,972.3 M1272.3,972.3 1272.7,977.9 M1275.1,978.1 1275.5,1005.5 M1284.5,1010.6 1285.0,997.4 M1287.3,997.1 1288.0,954.2 M1170.3,1089.3 1171.0,1097.4 M1173.5,1097.7 1174.0,1106.1 M1176.3,1106.3 1176.8,1111.6 M1178.6,1111.6 1179.1,1138.8 M1179.2,1138.8 1179.6,1116.9 M1184.2,1117.2 1184.6,1127.7 M1184.8,1127.7 1185.2,1116.5 M1189.8,1116.5 1190.2,1127.7 M1195.4,1124.2 1195.9,1094.9 M1200.9,1094.6 1201.5,1077.9 M1203.7,1077.5 1204.3,1042.7 M1206.8,1042.2 1207.2,1034.7 M1211.7,1034.7 1212.1,1067.3 M1212.1,1067.3 1212.4,1053.8 M1216.7,1053.8 1217.0,1083.8 M1219.7,1084.5 1220.4,1091.8 M1222.5,1092.1 1223.0,1124.2 M1223.2,1124.2 1223.8,1110.9 M1226.0,1110.9 1226.3,1097.4 M1231.2,1097.0 1231.6,1076.1 M1236.2,1076.1 1236.5,1086.6 M1239.5,1086.6 1240.0,1065.0 M1244.1,1065.0 1244.6,1077.9 M1246.9,1078.2 1247.3,1094.9 M1247.5,1094.9 1247.9,1089.3 M1253.1,1085.9 1253.5,1078.2 M1255.6,1077.9 1256.0,1039.9 M1259.1,1039.5 1259.5,1012.4 M1266.0,1010.2 1266.4,1034.3 M1269.2,1034.7 1269.6,1056.6 M1271.6,1057.0 1272.0,1023.9 M1279.7,1023.9 1280.4,1045.4 M1280.7,1045.9 1281.1,1035.3 M1284.5,1035.3 1285.0,1048.2 M1285.5,1048.2 1285.9,1040.3 M1288.3,1039.9 1288.7,997.4 M1291.1,997.1 1291.5,960.5 M1304.6,1045.9 1305.0,1060.1 M1307.8,1060.1 1308.2,1068.4 M1310.6,1068.4 1311.0,1081.0 M1315.2,1081.0 1315.6,1059.8 M1317.6,1059.8 1318.0,1044.1 M1318.3,1044.1 1318.7,1084.5 M1325.6,1084.5 1326.1,1076.5 M1329.4,1079.3 1329.8,1094.9 M1333.7,1094.9 1334.3,1077.1 M1336.8,1076.8 1337.2,1065.4 M1337.5,1065.4 1338.1,1076.1 M1342.4,1076.1 1342.8,1070.9 M1345.2,1070.5 1345.6,1065.4 M1345.7,1065.4 1346.1,1076.1 M1350.4,1076.1 1350.7,1065.4 M1351.0,1065.4 1351.4,1076.1 M1358.4,1076.1 1359.1,1062.6 M1304.0,1069.8 1304.5,1094.6 M1309.6,1092.1 1310.0,1116.5 M1310.2,1116.5 1310.6,1108.2 M1313.4,1108.2 1314.1,1102.6 M1323.6,1103.0 1324.0,1110.9 M1325.6,1110.9 1326.3,1124.2 M1334.7,1122.1 1335.3,1094.9 M1339.6,1094.9 1340.0,1100.2 M1340.3,1100.2 1340.8,1094.9 M1347.9,1100.2 1348.4,1116.5 M1350.4,1116.5 1350.7,1132.5 M1350.6,1132.5 1351.0,1106.1 M1355.6,1105.8 1356.0,1129.7 M1356.2,1129.7 1356.6,1116.5 M1369.5,1067.0 1369.9,1027.6 M1370.0,1027.6 1370.5,1042.9 M1375.0,1042.9 1375.5,1024.4 M1375.6,1024.4 1376.0,1040.5 M1380.6,1040.5 1381.0,1024.4 M1383.4,1024.1 1383.8,985.8 M1385.8,985.4 1386.2,957.0 M1389.3,957.0 1389.7,996.9 M1392.0,997.3 1392.5,1008.1 M1396.6,1008.1 1397.1,994.1 M1397.3,994.1 1397.9,1038.3 M1400.1,1038.7 1400.7,1070.1 M1405.7,1068.0 1406.3,1079.8 M1412.7,1079.6 1413.4,1070.8 M1415.9,1070.4 1416.1,1062.4 M1416.4,1062.8 1416.9,1070.8 M1421.7,1070.1 1422.1,1043.3 M1424.2,1042.9 1424.5,960.0 M1361.8,1117.5 1362.2,1124.4 M1367.7,1121.6 1368.1,1075.7 M1370.5,1075.4 1370.9,1067.3 M1375.0,1067.3 1375.5,1086.5 M1375.6,1086.5 1376.0,1059.6 M1380.9,1061.7 1381.3,1032.5 M1383.7,1032.2 1384.1,1026.6 M1397.3,1026.2 1397.8,1040.1 M1399.7,1040.5 1400.1,1078.4 M1402.2,1079.1 1402.6,1105.6 M1410.6,1102.8 1411.0,1121.6 M1414.1,1116.8 1414.6,1108.8 M1416.9,1108.4 1417.4,1094.9 M1419.6,1094.5 1420.2,1088.9 M1422.0,1088.5 1422.4,1043.6 M1438.3,1059.6 1438.7,1072.6 M1440.8,1072.9 1441.2,1087.1 M1448.9,1091.7 1449.3,1078.7 M1449.5,1078.7 1449.9,1084.0 M1454.0,1084.0 1454.5,1075.9 M1454.5,1075.9 1455.0,1080.9 M1460.3,1084.3 1460.7,1089.9 M1470.8,1089.3 1471.2,1094.9 M1478.8,1100.0 1479.3,1089.9 M1484.1,1086.8 1484.4,1059.6 M1486.9,1059.2 1487.2,1051.7 M1492.1,1051.3 1492.5,1027.2 M1497.7,1023.8 1498.1,1016.0 M1498.6,1016.0 1499.1,1035.2 M1501.4,1035.5 1501.8,1043.3 M1508.8,1046.4 1509.2,1026.9 M1509.4,1026.9 1509.8,1051.3 M1512.2,1051.7 1512.6,1065.2 M1516.7,1065.2 1517.2,1048.9 M1519.5,1048.5 1520.0,1021.3 M1520.2,1021.3 1520.7,1065.2 M1525.8,1065.2 1526.2,1079.1 M1530.1,1079.1 1530.4,1059.6 M1532.9,1059.2 1533.2,1051.3 M1533.9,1051.3 1534.2,1089.9 M1543.6,1089.6 1544.1,1081.5 M1545.0,1081.2 1545.6,1103.5 M1549.2,1103.5 1549.6,1078.7 M1553.0,1078.7 1553.4,1086.8 M1557.6,1086.8 1558.0,1078.7 M1562.7,1078.7 1563.1,1065.2 M1563.7,1065.2 1564.1,1078.7 M1568.7,1078.4 1569.1,1062.4 M1570.1,1062.0 1570.5,1027.2 M1571.8,1027.2 1572.2,1062.4 M1577.7,1065.6 1578.1,1078.4 M1582.0,1078.4 1582.4,1073.1 M1590.3,1073.1 1590.7,1056.8 M1591.0,1056.8 1591.6,1075.9 M1593.8,1076.3 1594.4,1087.1 M1598.7,1087.1 1599.1,1075.9 M1599.4,1075.9 1599.9,1084.0 M1604.0,1084.0 1604.5,1078.7 M1609.5,1075.7 1610.1,1051.3 M1611.9,1050.8 1612.3,1029.4 M1618.5,1035.2 1618.9,1048.5 M1623.6,1051.7 1624.1,1070.8 M1628.2,1070.8 1628.6,1059.6 M1636.3,1062.4 1636.7,1054.5 M1637.3,1054.5 1637.7,1063.1 M1437.7,1089.6 1438.2,1116.8 M1442.9,1114.0 1443.3,1119.5 M1443.6,1119.5 1444.0,1111.2 M1448.9,1111.2 1449.3,1127.9 M1449.5,1127.9 1449.9,1116.8 M1452.0,1116.8 1452.4,1106.0 M1456.8,1106.0 1457.2,1116.8 M1457.5,1116.8 1458.0,1111.2 M1462.1,1111.2 1462.5,1124.7 M1470.2,1121.6 1470.8,1132.8 M1470.8,1132.8 1471.2,1116.8 M1475.8,1116.8 1476.3,1130.3 M1476.8,1130.3 1477.3,1108.8 M1481.4,1108.8 1481.9,1124.7 M1481.9,1124.7 1482.3,1111.2 M1484.7,1110.8 1485.1,1087.1 M1488.9,1087.1 1489.3,1094.9 M1489.9,1094.9 1490.3,1075.9 M1492.7,1075.7 1493.1,1043.3 M1497.7,1043.3 1498.1,1064.8 M1500.4,1065.2 1500.9,1080.9 M1503.5,1077.7 1504.2,1070.4 M1507.0,1070.1 1507.4,1064.8 M1511.2,1065.2 1511.6,1089.6 M1513.7,1089.6 1514.1,1094.9 M1514.7,1094.9 1515.1,1089.6 M1521.8,1086.5 1522.3,1102.8 M1527.6,1102.8 1528.0,1119.5 M1530.3,1119.5 1530.7,1106.0 M1534.9,1106.0 1535.3,1111.2 M1536.3,1111.2 1536.7,1116.8 M1536.7,1116.8 1537.2,1111.2 M1540.9,1111.2 1541.3,1127.9 M1541.4,1127.9 1541.8,1103.2 M1546.4,1103.2 1546.8,1146.7 M1547.8,1146.7 1548.4,1127.9 M1550.2,1127.9 1550.6,1119.1 M1554.8,1119.1 1555.2,1135.8 M1555.8,1135.8 1556.2,1103.2 M1559.9,1103.2 1560.4,1111.2 M1563.1,1111.2 1563.6,1116.8 M1566.5,1116.8 1566.9,1092.1 M1571.8,1091.7 1572.2,1086.5 M1576.4,1086.5 1576.8,1124.7 M1577.7,1124.7 1578.1,1100.7 M1584.7,1100.7 1585.2,1106.0 M1585.7,1106.0 1586.2,1100.7 M1595.6,1106.0 1596.2,1114.0 M1601.2,1111.2 1601.7,1119.5 M1603.6,1119.5 1604.0,1127.9 M1605.0,1127.9 1605.5,1114.0 M1609.7,1116.8 1610.1,1070.8 M1612.5,1070.4 1612.9,1062.4 M1617.1,1062.4 1617.5,1068.0 M1619.6,1068.0 1620.0,1078.7 M1621.0,1079.1 1621.7,1086.8 M1625.4,1086.8 1625.9,1097.7 M1626.4,1097.7 1626.8,1092.1 M1631.0,1092.1 1631.4,1103.2 M1631.7,1103.2 1632.1,1094.9 M1636.3,1094.9 1636.7,1100.0 M1637.0,1100.0 1637.6,1084.0 M1640.0,1062.4 1640.4,1070.8 M1642.8,1070.8 1643.2,1075.9 M1645.3,1075.9 1645.9,1081.2 M1650.2,1081.2 1650.6,1073.6 M1650.9,1073.6 1651.1,1092.1 M1655.7,1092.1 1656.2,1075.9 M1656.4,1075.9 1657.0,1102.8 M1666.6,1094.9 1667.2,1081.5 M1667.2,1081.5 1667.6,1092.1 M1671.8,1092.1 1672.2,1084.0 M1674.5,1084.0 1675.0,1078.7 M1675.5,1078.7 1676.0,1084.3 M1677.9,1084.3 1678.3,1097.9 M1682.9,1097.9 1683.3,1062.4 M1683.5,1062.4 1683.9,1086.8 M1691.3,1084.0 1691.7,1065.2 M1694.1,1065.2 1694.5,1043.3 M1704.8,1043.3 1705.2,1010.4 M1707.6,1010.2 1708.0,1002.1 M1708.3,1002.1 1708.7,1021.0 M1710.8,1021.3 1711.3,1046.4 M1716.4,1049.2 1716.9,1059.6 M1718.7,1060.0 1719.1,1075.7 M1729.3,1076.3 1729.9,1057.1 M1732.7,1059.6 1733.1,1065.2 M1737.8,1062.4 1738.2,1068.0 M1743.1,1068.0 1743.5,1086.8 M1748.4,1086.8 1748.8,1068.0 M1749.0,1068.0 1749.4,1081.2 M1759.1,1081.5 1759.5,1075.9 M1764.7,1075.9 1765.1,1065.2 M1765.4,1065.2 1765.8,1089.3 M1770.0,1089.3 1770.4,1075.9 M1770.7,1075.9 1771.3,1081.2 M1773.5,1081.5 1774.0,1089.6 M1776.3,1089.9 1776.8,1100.7 M1780.9,1100.7 1781.4,1092.1 M1783.9,1092.1 1784.3,1086.8 M1796.7,1089.9 1797.2,1073.1 M1797.7,1073.1 1798.2,1078.7 M1802.7,1078.7 1803.2,1073.1 M1803.3,1073.1 1803.7,1084.0 M1808.6,1084.0 1809.0,1089.9 M1812.1,1089.9 1812.5,1102.8 M1816.3,1102.8 1816.7,1084.0 M1832.7,1078.7 1833.1,1073.1 M1833.4,1073.1 1834.0,1078.7 M1836.2,1078.7 1836.7,1089.9 M1840.8,1089.9 1841.3,1073.1 M1841.8,1073.1 1842.3,1078.7 M1846.4,1078.7 1846.9,1070.8 M1847.3,1070.8 1847.9,1075.9 M1850.1,1075.9 1850.7,1081.5 M1852.9,1081.5 1853.5,1086.8 M1862.7,1086.8 1863.1,1081.5 M1863.6,1081.5 1864.1,1086.8 M1868.2,1086.8 1868.6,1075.9 M1868.8,1075.9 1869.2,1094.9 M1873.8,1094.9 1874.2,1086.8 M1877.2,1086.8 1877.6,1094.9 M1881.7,1094.9 1882.2,1075.9 M1885.5,1073.6 1885.9,1092.1 M1890.1,1092.1 1890.5,1075.9 M1890.8,1075.9 1891.2,1092.1 M1895.4,1092.1 1895.8,1068.0 M1898.2,1068.0 1898.6,1054.5 M1898.9,1054.5 1899.5,1073.1 M1903.8,1073.1 1904.2,1068.0 M1906.8,1065.2 1907.3,1084.0 M1911.8,1084.0 1912.4,1073.1 M1912.8,1073.1 1913.4,1092.1 M1917.7,1092.1 1918.1,1086.8 M1641.8,1084.0 1642.2,1114.0 M1642.8,1114.0 1643.2,1102.8 M1647.4,1102.8 1647.8,1121.9 M1664.8,1127.2 1665.4,1121.9 M1669.0,1121.9 1669.4,1140.9 M1672.7,1138.4 1673.2,1124.7 M1677.3,1124.7 1677.8,1135.6 M1678.3,1135.6 1678.7,1121.9 M1686.3,1116.8 1686.7,1105.6 M1691.6,1105.6 1692.0,1094.9 M1694.6,1094.9 1695.0,1078.7 M1699.2,1078.7 1699.6,1086.5 M1699.9,1086.5 1700.3,1081.2 M1702.7,1081.2 1703.1,1054.1 M1705.5,1054.1 1705.9,1040.1 M1710.1,1040.1 1710.5,1078.7 M1711.3,1078.7 1711.8,1072.9 M1715.7,1072.9 1716.1,1086.5 M1718.4,1086.5 1718.9,1102.8 M1720.9,1102.8 1721.5,1108.4 M1723.7,1108.4 1724.3,1114.0 M1724.3,1114.0 1724.7,1106.0 M1727.1,1106.0 1727.5,1097.7 M1729.9,1097.7 1730.3,1084.0 M1734.5,1084.0 1734.9,1092.1 M1737.7,1092.1 1738.2,1100.0 M1745.6,1102.8 1746.0,1114.0 M1746.2,1114.0 1746.6,1108.8 M1754.0,1111.2 1754.4,1119.5 M1754.5,1119.5 1755.0,1106.0 M1759.1,1106.0 1759.5,1132.8 M1760.1,1132.8 1760.5,1108.8 M1762.6,1108.8 1763.0,1089.6 M1767.5,1089.6 1767.9,1111.2 M1768.2,1111.2 1768.6,1097.9 M1772.5,1097.9 1773.1,1116.8 M1778.1,1119.5 1778.6,1130.3 M1781.4,1132.8 1781.8,1119.5 M1788.8,1119.5 1789.2,1135.6 M1793.0,1138.4 1793.6,1127.9 M1795.4,1127.9 1795.8,1122.3 M1800.0,1122.3 1800.4,1130.3 M1800.5,1130.3 1800.9,1121.9 M1803.7,1121.9 1804.1,1108.8 M1807.9,1108.8 1808.3,1127.9 M1811.1,1127.9 1811.5,1152.0 M1814.5,1154.4 1814.9,1111.2 M1818.8,1111.2 1819.2,1116.8 M1821.6,1116.8 1822.0,1127.9 M1825.3,1124.7 1825.7,1108.8 M1829.9,1108.8 1830.3,1116.8 M1843.6,1108.8 1844.1,1132.8 M1844.6,1132.8 1845.1,1124.7 M1846.9,1124.7 1847.3,1116.8 M1849.7,1116.8 1850.1,1111.2 M1854.7,1111.2 1855.3,1125.1 M1857.5,1125.1 1858.1,1140.9 M1858.1,1140.9 1858.5,1119.5 M1865.9,1121.9 1866.4,1132.8 M1866.4,1132.8 1866.8,1111.2 M1871.0,1111.2 1871.4,1127.9 M1873.8,1127.9 1874.2,1135.8 M1877.2,1135.8 1877.6,1114.0 M1881.7,1114.0 1882.2,1121.9 M1887.7,1121.9 1888.3,1116.8 M1892.9,1116.8 1893.3,1127.9 M1893.6,1127.9 1894.0,1103.5 M1898.2,1103.5 1898.6,1108.8 M1900.7,1108.8 1901.3,1114.0 M1901.7,1114.0 1902.2,1108.8 M1911.8,1111.2 1912.4,1127.9 M1914.5,1127.9 1915.2,1111.2 M1919.1,1111.2 1919.5,1122.3 M1927.8,1087.5 1928.2,1065.2 M1928.7,1065.2 1929.2,1075.9 M1936.1,1078.4 1936.5,1073.1 M1944.5,1075.7 1944.9,1068.0 M1945.2,1068.0 1945.7,1075.7 M1950.8,1070.8 1951.3,1086.8 M1955.3,1086.8 1955.9,1075.9 M1955.9,1075.9 1956.3,1089.6 M1960.9,1089.6 1961.5,1081.5 M1961.5,1081.5 1961.9,1094.9 M1974.4,1103.2 1974.8,1084.0 M1975.4,1084.0 1975.8,1094.5 M1980.0,1094.5 1980.4,1086.8 M1983.4,1089.6 1983.8,1097.9 M1987.9,1097.9 1988.4,1078.7 M1988.7,1078.7 1989.1,1097.9 M1996.0,1094.9 1996.4,1089.6 M2002.3,1089.6 2002.7,1081.2 M2005.1,1078.7 2005.7,1092.1 M2010.0,1092.1 2010.4,1068.0 M2010.7,1068.0 2011.2,1078.7 M2015.5,1078.7 2016.0,1068.0 M2018.0,1068.0 2018.6,1046.1 M2020.8,1046.1 2021.4,1032.2 M2021.8,1032.2 2022.4,1062.4 M2026.4,1062.4 2027.0,1040.5 M2027.0,1040.5 2027.4,1046.1 M2029.8,1046.1 2030.2,1054.1 M2034.3,1054.1 2034.8,1048.9 M2037.1,1048.9 2037.6,1002.1 M2037.7,1002.1 2038.1,1070.8 M2042.7,1070.8 2043.1,1043.3 M2053.9,1037.8 2054.3,1029.4 M2054.4,1029.4 2054.8,1051.3 M2056.9,1051.3 2057.3,1070.8 M2062.2,1070.8 2062.6,1065.2 M2065.0,1065.2 2065.6,1075.9 M2072.7,1075.9 2073.1,1070.8 M2078.0,1073.6 2078.5,1054.1 M2081.0,1054.1 2081.4,1008.1 M2081.3,1008.1 2081.7,1021.3 M2085.9,1021.3 2086.3,994.1 M1922.9,1119.5 1923.3,1135.6 M1923.4,1135.6 1923.9,1124.7 M1927.8,1124.7 1928.2,1132.8 M1928.7,1132.8 1929.2,1119.5 M1934.3,1116.8 1934.7,1100.5 M1938.9,1100.5 1939.3,1116.8 M1939.6,1116.8 1940.2,1105.6 M1942.7,1105.6 1943.1,1097.9 M1947.3,1097.9 1947.7,1124.7 M1950.8,1124.7 1951.3,1116.8 M1955.6,1116.8 1956.0,1146.4 M1958.7,1146.4 1959.1,1121.9 M1961.5,1121.9 1961.9,1116.8 M1966.5,1116.8 1967.0,1140.9 M1968.9,1140.9 1969.3,1149.5 M1969.4,1149.5 1969.8,1135.8 M1974.4,1135.8 1974.8,1140.9 M1975.0,1140.9 1975.4,1125.1 M1979.6,1125.1 1980.0,1132.8 M1986.1,1127.2 1986.6,1121.9 M1988.7,1121.9 1989.1,1116.8 M1991.4,1116.8 1991.9,1111.2 M1996.3,1111.2 1996.7,1116.8 M1997.0,1116.8 1997.4,1108.8 M2001.9,1108.8 2002.3,1119.5 M2002.6,1119.5 2003.0,1111.2 M2005.1,1111.2 2005.7,1106.0 M2012.7,1106.0 2013.2,1111.2 M2015.8,1111.2 2016.2,1081.2 M2026.0,1078.4 2026.4,1086.8 M2031.6,1084.0 2032.0,1097.7 M2034.9,1100.5 2035.3,1086.8 M2039.9,1086.8 2040.3,1092.1 M2040.5,1092.1 2040.9,1072.6 M2051.6,1078.4 2052.1,1070.8 M2056.2,1070.8 2056.6,1116.8 M2059.7,1119.5 2060.1,1108.8 M2065.0,1108.8 2065.6,1103.2 M2069.9,1103.2 2070.3,1108.8 M2073.4,1111.2 2073.9,1103.2 M2076.2,1103.2 2076.7,1086.8 M2081.3,1086.8 2081.7,1051.3" fill="none" stroke="#000" stroke-width="1.8" stroke-linecap="butt"/>
<path d="M767.7,624.0 767.7,536.0" fill="none" stroke="#000" stroke-width="2.0" stroke-linejoin="miter" stroke-linecap="butt"/>
<path d="M764.3,888.0 764.3,720.0 M766.2,722.0 766.4,622.0 M784.3,764.0 784.3,946.0" fill="none" stroke="#000" stroke-width="2.2" stroke-linejoin="miter" stroke-linecap="butt"/>
<path d="M636.8,976.9 636.8,940.0 M784.5,939.3 784.5,981.8 786.5,983.2 786.5,1036.1 M855.1,965.8 855.1,939.3" fill="none" stroke="#000" stroke-width="2.3" stroke-linejoin="miter" stroke-linecap="butt"/>
<path d="M509.1,1055.0 511.6,1055.0 511.6,949.8 513.9,949.8 M753.2,946.0 753.2,806.0 755.2,804.0 755.4,753.0 M763.2,886.0 763.2,933.0 M855.0,942.0 855.1,897.0 M950.4,990.9 953.1,964.4 953.1,939.3 M952.8,942.0 952.8,853.0 955.0,852.0 955.3,809.0 957.7,808.0 958.0,786.3 M959.8,790.0 960.3,821.0 961.5,823.0 961.8,942.0 M961.3,939.3 961.3,958.1 963.9,963.7 963.9,1026.4 966.7,1027.1 966.7,1075.2 M1037.8,1026.4 1037.8,986.0 1040.6,985.3 1040.6,939.3 M1040.6,942.0 1040.7,902.0 1043.6,900.0 1043.8,769.0 1046.5,767.0 1046.8,660.0 1046.8,625.0 M1062.4,650.0 1062.6,834.0 1064.8,836.0 1064.8,942.0 M1064.5,939.3 1064.5,988.1 1067.3,995.7 1067.3,1051.5 M1064.9,938.9 1064.9,990.4 1067.4,994.6 1067.4,1050.3 M1152.0,952.0 1152.0,853.0 1154.5,851.0 1154.8,741.0 1157.0,739.0 1157.2,693.4 M1158.8,700.0 1159.0,781.0 1161.2,783.0 1161.5,914.0 1163.6,916.0 1163.8,1010.0 M1165.6,1009.9 1165.6,1089.3 M1296.3,938.9 1296.3,1025.9 1299.1,1026.4 1299.1,1064.3 M1424.4,1043.6 1424.4,948.9 M1432.7,925.2 1432.7,999.0 1435.6,1015.7 1435.6,1074.3" fill="none" stroke="#000" stroke-width="2.4" stroke-linejoin="miter" stroke-linecap="butt"/>
<path d="M517.8,944.9 519.6,986.0 519.6,1079.3 M590.3,944.0 590.5,900.0 591.5,876.0 592.7,840.0 594.0,816.0 596.3,756.0 597.5,732.0 598.2,700.0 598.6,655.0 599.4,655.0 600.2,780.0 601.6,944.0 M625.5,968.0 627.3,934.0 628.8,909.0 M672.3,945.0 672.0,740.0 674.5,722.0 676.7,700.0 M678.1,720.0 678.3,784.0 680.7,786.0 680.9,945.0 M761.3,846.0 761.5,890.0 M783.0,655.0 783.0,766.0" fill="none" stroke="#000" stroke-width="2.6" stroke-linejoin="miter" stroke-linecap="butt"/>
<path d="M636.8,942.0 637.2,900.0 637.7,790.0 638.8,745.0 640.2,745.0 640.8,867.0 642.0,891.0 643.0,942.0 M697.0,945.0 696.6,900.0 698.8,881.0 699.7,850.0 702.2,838.5 703.5,838.5 705.3,867.0 707.7,884.0 708.9,912.0 710.6,937.0 710.9,945.0 M857.0,900.0 859.2,917.0 860.4,941.0 860.4,948.0" fill="none" stroke="#000" stroke-width="2.8" stroke-linejoin="miter" stroke-linecap="butt"/>
<path d="M734.3,945.0 734.6,925.0 736.3,910.0 737.6,925.0 738.0,945.0 M773.5,536.0 773.5,654.0" fill="none" stroke="#000" stroke-width="3.0" stroke-linejoin="miter" stroke-linecap="butt"/>
<path d="M1289.0,940.0 1289.0,1000.0" fill="none" stroke="#000" stroke-width="3.3" stroke-linejoin="miter" stroke-linecap="butt"/>
<path d="M958.8,786.3 958.8,822.0 M1157.7,693.4 1157.7,781.0" fill="none" stroke="#000" stroke-width="3.4" stroke-linejoin="miter" stroke-linecap="butt"/>
<path d="M855.9,897.0 855.9,918.0" fill="none" stroke="#000" stroke-width="4.1" stroke-linejoin="miter" stroke-linecap="butt"/>
<path d="M1292.4,855.3 1292.4,955.0" fill="none" stroke="#000" stroke-width="4.2" stroke-linejoin="miter" stroke-linecap="butt"/>
<path d="M515.7,952.5 515.7,707.0" fill="none" stroke="#000" stroke-width="4.4" stroke-linejoin="miter" stroke-linecap="butt"/>
<path d="M1429.0,830.0 1429.0,948.0" fill="none" stroke="#000" stroke-width="4.5" stroke-linejoin="miter" stroke-linecap="butt"/>
<path d="M757.6,655.0 757.6,850.0 M774.6,652.0 774.6,864.0" fill="none" stroke="#000" stroke-width="4.6" stroke-linejoin="miter" stroke-linecap="butt"/>
<path d="M779.9,335.0 779.9,657.0" fill="none" stroke="#000" stroke-width="4.8" stroke-linejoin="miter" stroke-linecap="butt"/>
<path d="M676.7,483.0 676.7,725.0" fill="none" stroke="#000" stroke-width="4.9" stroke-linejoin="miter" stroke-linecap="butt"/>
<path d="M769.3,136.0 769.3,540.0" fill="none" stroke="#000" stroke-width="5.2" stroke-linejoin="miter" stroke-linecap="butt"/>
</g>
<g id="markers">
<polygon points="514.8,671.0 529.5,696.0 502.0,696.0" fill="#000"/>
<polygon points="601.5,622.2 604.6,632.5 613.9,632.7 606.4,639.3 609.1,649.8 601.5,643.6 593.9,649.8 596.6,639.3 589.1,632.7 598.4,632.5" fill="#000"/>
<circle cx="639.6" cy="727.2" r="12.4" fill="#000"/>
<polygon points="675.9,450.0 690.0,475.0 663.0,475.0" fill="#000"/>
<polygon points="702.3,803.0 705.4,813.1 714.8,813.3 707.3,819.8 710.0,830.0 702.3,823.9 694.6,830.0 697.3,819.8 689.8,813.3 699.2,813.1" fill="#000"/>
<polygon points="736.3,876.5 750.2,900.5 722.8,900.5" fill="#000"/>
<circle cx="773.3" cy="115.8" r="12.4" fill="#000"/>
<polygon points="792.2,305.3 805.0,330.0 779.3,330.0" fill="#000"/>
<polygon points="857.8,868.8 860.9,878.9 870.3,879.1 862.8,885.6 865.5,895.8 857.8,889.7 850.1,895.8 852.8,885.6 845.3,879.1 854.7,878.9" fill="#000"/>
<circle cx="955.8" cy="767.8" r="12.5" fill="#000"/>
<polygon points="1056.3,387.2 1059.9,397.5 1070.8,397.7 1062.1,404.3 1065.3,414.8 1056.3,408.6 1047.3,414.8 1050.5,404.3 1041.8,397.7 1052.7,397.5" fill="#000"/>
<polygon points="1157.2,660.4 1171.7,685.2 1142.8,685.2" fill="#000"/>
<circle cx="1291.2" cy="833.6" r="12.5" fill="#000"/>
<circle cx="1424.6" cy="814.9" r="12.4" fill="#000"/>
</g>
</svg>
</body>
</html>
